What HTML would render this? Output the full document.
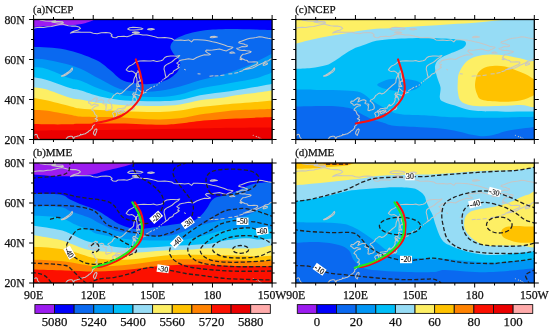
<!DOCTYPE html><html><head><meta charset="utf-8"><style>html,body{margin:0;padding:0;background:#fff;overflow:hidden}svg{display:block}.t{font-family:"Liberation Serif",serif;font-size:11.8px;fill:#111;stroke:#111;stroke-width:0.25px}.tt{font-family:"Liberation Serif",serif;font-size:11px;fill:#111;stroke:#111;stroke-width:0.25px}.cb{font-family:"Liberation Serif",serif;font-size:12.8px;fill:#111;stroke:#111;stroke-width:0.25px}.s{font-family:"Liberation Serif",serif;font-size:7.8px;fill:#111;stroke:#111;stroke-width:0.15px}</style></head><body>
<svg width="550" height="329" viewBox="0 0 550 329">
<rect width="550" height="329" fill="#fff"/>
<defs><clipPath id="clipa"><rect x="33.6" y="19.5" width="238.5" height="120.0"/></clipPath><clipPath id="clipb"><rect x="33.6" y="163.0" width="238.5" height="120.0"/></clipPath><clipPath id="clipc"><rect x="295.8" y="19.5" width="238.5" height="120.0"/></clipPath><clipPath id="clipd"><rect x="295.8" y="163.0" width="238.5" height="120.0"/></clipPath></defs>
<g clip-path="url(#clipa)"><rect x="33.6" y="19.5" width="238.5" height="120.0" fill="#0000fc"/>
<path d="M31.6,27.0 C35.5,26.8 47.3,26.2 55.0,25.8 C62.7,25.4 72.5,25.2 78.0,24.6 C83.5,24.0 84.8,23.3 88.0,22.3 C91.2,21.3 95.5,19.1 97.0,18.5 L97.0,15.0 L31.6,15.0 Z" fill="#9c1cf0"/>
<path d="M31.6,46.7 C37.2,47.2 54.4,47.4 65.0,49.5 C75.6,51.6 87.5,56.1 95.0,59.5 C102.5,62.9 105.7,66.7 110.0,70.0 C114.3,73.3 117.3,77.4 121.0,79.5 C124.7,81.6 127.8,82.0 132.0,82.8 C136.2,83.6 141.7,84.2 146.0,84.2 C150.3,84.2 154.8,83.6 158.0,83.0 C161.2,82.4 162.8,81.4 165.0,80.5 C167.2,79.6 168.8,79.1 171.0,77.5 C173.2,75.9 176.5,73.6 178.0,71.0 C179.5,68.4 180.8,65.0 180.0,62.0 C179.2,59.0 174.6,55.7 173.0,53.0 C171.4,50.3 170.0,48.4 170.5,46.0 C171.0,43.6 172.9,40.9 176.0,38.8 C179.1,36.7 184.2,34.9 189.0,33.5 C193.8,32.1 198.2,31.1 205.0,30.3 C211.8,29.6 218.5,29.1 230.0,29.0 C241.5,28.9 266.8,29.8 274.1,30.0 L274.1,300.0 L31.6,300.0 Z" fill="#0a69f0"/>
<path d="M31.6,58.8 C33.8,58.9 39.9,58.8 45.0,59.5 C50.1,60.2 56.2,61.5 62.0,63.0 C67.8,64.5 73.7,65.7 80.0,68.4 C86.3,71.1 93.3,75.6 100.0,79.0 C106.7,82.4 113.3,86.9 120.0,89.0 C126.7,91.1 133.3,91.2 140.0,91.5 C146.7,91.8 153.3,91.6 160.0,90.8 C166.7,90.0 173.3,88.3 180.0,86.5 C186.7,84.7 193.3,82.0 200.0,80.2 C206.7,78.4 214.0,77.2 220.0,75.5 C226.0,73.8 230.2,72.4 236.0,70.2 C241.8,68.0 248.7,65.5 255.0,62.5 C261.4,59.5 270.9,54.2 274.1,52.5 L274.1,300.0 L31.6,300.0 Z" fill="#0096f5"/>
<path d="M31.6,67.4 C33.8,67.6 38.6,66.7 45.0,68.5 C51.4,70.3 64.2,76.3 70.0,78.3 C75.8,80.3 75.0,78.7 80.0,80.5 C85.0,82.3 93.3,86.6 100.0,89.0 C106.7,91.4 113.3,93.8 120.0,95.1 C126.7,96.3 133.3,96.2 140.0,96.5 C146.7,96.8 153.3,97.3 160.0,97.0 C166.7,96.7 173.3,95.9 180.0,94.5 C186.7,93.1 193.3,90.1 200.0,88.5 C206.7,86.9 214.0,86.1 220.0,85.0 C226.0,83.9 230.2,83.0 236.0,81.9 C241.8,80.8 248.7,80.2 255.0,78.5 C261.4,76.8 270.9,72.9 274.1,71.8 L274.1,300.0 L31.6,300.0 Z" fill="#00bef8"/>
<path d="M31.6,77.0 C33.8,77.4 38.6,77.7 45.0,79.5 C51.4,81.3 64.2,86.3 70.0,88.1 C75.8,89.9 75.0,88.9 80.0,90.3 C85.0,91.7 93.3,94.9 100.0,96.5 C106.7,98.1 113.3,99.2 120.0,100.0 C126.7,100.8 133.3,100.8 140.0,101.0 C146.7,101.2 153.3,101.4 160.0,101.2 C166.7,101.0 173.3,101.0 180.0,100.0 C186.7,99.0 193.3,96.5 200.0,95.2 C206.7,94.0 214.0,93.3 220.0,92.5 C226.0,91.7 230.2,91.1 236.0,90.2 C241.8,89.3 248.7,88.1 255.0,87.0 C261.4,85.9 270.9,84.1 274.1,83.5 L274.1,300.0 L31.6,300.0 Z" fill="#96dcf5"/>
<path d="M31.6,87.0 C33.8,87.3 38.6,87.2 45.0,89.0 C51.4,90.8 64.2,96.0 70.0,97.7 C75.8,99.5 75.0,98.6 80.0,99.5 C85.0,100.4 93.3,102.1 100.0,103.0 C106.7,103.9 113.3,104.4 120.0,104.9 C126.7,105.4 133.3,105.6 140.0,105.8 C146.7,106.0 153.3,106.2 160.0,106.0 C166.7,105.8 173.3,105.5 180.0,104.5 C186.7,103.5 193.3,101.4 200.0,100.3 C206.7,99.2 214.0,98.8 220.0,98.0 C226.0,97.2 230.2,96.0 236.0,95.2 C241.8,94.4 248.7,93.8 255.0,93.0 C261.4,92.2 270.9,90.7 274.1,90.2 L274.1,300.0 L31.6,300.0 Z" fill="#fdef64"/>
<path d="M31.6,97.8 C33.8,98.2 38.6,98.6 45.0,100.0 C51.4,101.4 64.2,104.8 70.0,106.2 C75.8,107.6 75.0,107.9 80.0,108.5 C85.0,109.1 93.3,109.6 100.0,110.0 C106.7,110.4 113.3,110.7 120.0,111.0 C126.7,111.3 133.3,111.6 140.0,111.8 C146.7,112.0 153.3,112.2 160.0,112.0 C166.7,111.8 173.3,111.3 180.0,110.5 C186.7,109.7 193.3,107.9 200.0,107.0 C206.7,106.1 214.0,105.6 220.0,105.0 C226.0,104.4 230.2,104.1 236.0,103.6 C241.8,103.1 248.7,102.5 255.0,102.0 C261.4,101.5 270.9,100.6 274.1,100.3 L274.1,300.0 L31.6,300.0 Z" fill="#ffc200"/>
<path d="M31.6,109.9 C33.8,110.0 38.6,109.7 45.0,110.5 C51.4,111.3 64.2,113.7 70.0,114.7 C75.8,115.7 75.0,116.1 80.0,116.5 C85.0,116.9 93.3,116.9 100.0,117.0 C106.7,117.1 113.3,117.0 120.0,117.3 C126.7,117.6 133.3,118.3 140.0,118.7 C146.7,119.1 153.3,119.6 160.0,119.5 C166.7,119.4 173.3,119.1 180.0,118.3 C186.7,117.5 193.3,115.5 200.0,114.5 C206.7,113.5 214.0,112.7 220.0,112.0 C226.0,111.3 230.2,110.7 236.0,110.3 C241.8,109.9 248.7,109.8 255.0,109.5 C261.4,109.2 270.9,108.8 274.1,108.6 L274.1,300.0 L31.6,300.0 Z" fill="#ff8200"/>
<path d="M31.6,123.6 C33.8,123.7 38.6,124.2 45.0,124.3 C51.4,124.4 64.2,124.4 70.0,124.3 C75.8,124.2 71.7,123.8 80.0,123.7 C88.3,123.6 106.7,123.3 120.0,123.5 C133.3,123.7 150.0,124.8 160.0,124.8 C170.0,124.8 173.3,124.1 180.0,123.5 C186.7,122.9 190.7,121.8 200.0,121.0 C209.3,120.2 223.7,119.3 236.0,118.6 C248.3,117.9 267.8,117.3 274.1,117.0 L274.1,300.0 L31.6,300.0 Z" fill="#fc1000"/>
<path d="M31.6,130.5 C43.0,130.4 80.3,130.2 100.0,130.0 C119.7,129.8 131.7,129.6 150.0,129.3 C168.3,129.0 189.3,128.5 210.0,128.2 C230.7,127.9 263.4,127.5 274.1,127.4 L274.1,300.0 L31.6,300.0 Z" fill="#eb0000"/>
<path d="M32.6,28.5 L35.6,27.7 L39.6,27.3 L43.5,27.5 L47.5,26.7 L51.5,26.5 L54.5,25.7 L57.5,24.9 L61.8,24.1 L65.4,24.9 L68.4,25.7 L71.4,26.1 L75.3,26.1 L78.9,26.9 L80.5,28.3 L78.3,29.9 L74.3,31.1 L71.4,32.3 L70.4,33.1 L74.3,32.3 L78.3,31.9 L81.3,32.3 L85.3,32.3 L90.2,32.3 L93.2,33.3 L97.2,33.7 L101.2,32.7 L106.1,32.5 L110.1,33.1 L112.1,34.9 L111.1,35.9 L113.1,37.5 L116.1,37.7 L118.1,36.5 L120.1,36.5 L124.0,36.3 L127.0,36.7 L131.0,35.5 L132.6,34.5 L135.0,34.1 L137.9,34.1 L142.9,35.1 L146.9,34.9 L152.8,36.3 L155.8,36.9 L157.8,37.7 L160.8,37.7 L164.8,37.5 L168.8,37.9 L171.7,38.5 L173.7,39.9 L176.7,40.3 L180.7,40.1 L184.7,40.5 L188.6,39.9 L191.6,41.9 L193.6,39.7 L197.6,39.7 L202.5,39.9 L205.5,40.3 L209.5,40.9 L212.5,41.7 L216.4,42.5 L220.4,43.7 L224.4,45.1 L227.4,46.3 L230.4,46.7 L232.9,47.3 L231.4,48.5 L228.4,49.7 L226.4,50.9 L223.4,50.3 L219.4,49.1 L216.4,49.5 L212.5,50.1 L209.5,50.3 L206.5,50.1 L205.5,51.1 L207.5,52.9 L210.5,54.5 L208.5,54.9 L204.5,54.7 L200.5,55.9 L196.6,57.5 L193.2,59.5 L188.6,58.7 L184.7,59.5 L181.7,59.9 L179.3,60.7 L178.7,61.9 L176.7,63.1 L177.7,63.9 L179.3,64.5 L177.7,66.5 L179.3,67.3 L176.3,69.5 L173.7,70.9 L172.7,72.9 L170.1,73.9 L168.8,75.1 L167.8,76.3 L166.2,77.5 L165.8,76.5 L165.2,74.5 L164.8,71.9 L164.0,69.1 L164.4,66.5 L166.2,64.9 L167.8,63.9 L169.7,63.1 L172.3,61.5 L174.7,59.3 L178.3,57.1 L179.7,55.5 L176.7,56.3 L173.7,56.1 L170.7,55.9 L166.8,56.5 L164.8,57.5 L162.8,59.9 L160.8,60.7 L156.8,61.5 L154.8,61.1 L153.8,60.5 L150.9,60.9 L147.9,60.9 L143.9,60.7 L139.9,60.9 L136.9,61.5 L135.0,62.5 L133.6,63.9 L131.4,65.1 L129.0,66.3 L127.6,67.9 L126.2,69.9 L127.6,70.9 L129.4,71.5 L132.0,71.1 L134.0,72.3 L135.8,73.9 L135.4,75.9 L134.6,77.5 L134.0,79.1 L133.8,80.5 L133.6,82.5 L132.2,83.9 L130.0,85.5 L128.0,87.3 L126.0,89.1 L124.0,91.1 L122.0,92.9 L119.5,93.9 L117.7,93.1 L116.1,93.5 L115.3,94.3 L114.5,94.9 L113.5,95.5 L112.5,97.1 L112.3,97.9 L111.1,98.5 L110.1,99.5 L108.5,99.9 L107.9,101.1 L109.5,102.1 L110.3,103.1 L111.5,104.5 L111.9,106.3 L112.1,107.9 L111.7,108.9 L111.1,109.3 L109.9,109.7 L108.5,110.1 L106.9,110.7 L105.7,110.3 L105.9,109.1 L106.1,107.7 L106.3,106.5 L105.5,105.7 L106.7,104.9 L106.1,104.1 L104.6,103.9 L103.4,103.7 L102.6,103.1 L103.6,102.1 L103.8,100.7 L103.0,100.3 L101.8,99.7 L100.2,99.9 L98.2,100.7 L96.6,101.5 L95.6,101.9 L96.4,100.7 L96.2,99.7 L97.6,98.7 L97.0,97.9 L95.6,97.7 L94.2,98.7 L92.8,99.7 L91.8,100.7 L90.8,101.3 L89.4,101.1 L88.7,101.7 L88.5,102.7 L89.4,103.3 L90.8,104.1 L91.0,104.9 L92.4,105.3 L93.8,104.3 L94.8,103.9 L96.2,104.5 L98.0,104.7 L98.2,105.7 L96.2,105.9 L94.6,106.7 L93.6,107.7 L92.2,108.9 L91.8,110.1 L93.6,110.9 L94.4,112.7 L95.0,114.3 L96.0,115.1 L97.0,115.9 L96.8,116.9 L97.0,117.5 L96.2,118.1 L95.2,118.7 L96.4,119.3 L97.4,119.7 L97.0,121.1 L96.2,122.1 L95.8,123.1 L94.8,123.9 L94.2,124.9 L93.4,125.7 L92.4,126.5 L92.6,127.7 L91.8,128.7 L91.0,129.5 L90.4,130.3 L89.2,130.7 L88.5,131.5 L87.5,132.3 L86.5,132.9 L85.3,133.7 L83.9,134.1 L82.5,134.5 L81.7,134.9 L80.5,134.3 L80.3,135.1 L79.1,135.7 L77.7,136.1 L76.5,136.5 L75.1,136.7 L74.3,137.1 L73.9,138.3 L73.7,139.1 L73.2,138.5 L72.8,137.1 L72.4,136.5 L71.4,136.3 L70.4,136.3 L69.4,136.5 L68.4,136.7 L67.4,137.3 L66.8,138.1 L66.2,138.9 L65.6,139.7 L65.0,140.5 M32.6,135.5 L34.6,134.9 L36.0,134.3 L37.2,134.9 L37.4,136.5 L38.0,137.5 L38.6,138.3 L39.6,139.3 L40.6,140.1 M95.2,129.3 L96.4,128.9 L97.0,129.5 L96.8,130.7 L96.2,132.5 L95.6,133.9 L95.0,135.5 L94.6,134.9 L93.8,134.3 L93.4,133.5 L93.6,132.1 L94.2,130.9 L94.8,129.9 L95.2,129.3 M112.7,112.9 L113.7,112.3 L114.9,111.7 L115.9,112.3 L116.5,113.1 L116.9,114.5 L115.9,116.5 L115.1,117.1 L114.3,117.5 L113.5,116.9 L113.7,115.7 L113.1,114.5 L112.5,113.9 L112.7,112.9 M117.9,112.7 L118.9,113.9 L120.3,112.7 L121.6,112.9 L122.4,111.9 L121.8,111.1 L120.3,110.9 L119.1,111.5 L118.3,111.7 L117.9,112.7 M114.9,111.5 L115.5,110.7 L116.7,110.1 L118.3,108.7 L120.1,108.5 L122.0,108.3 L123.4,108.1 L124.8,108.3 L125.2,107.1 L126.4,105.7 L126.6,104.9 L127.6,104.5 L127.2,105.7 L128.0,105.7 L129.8,104.9 L130.8,103.9 L131.8,102.9 L132.4,101.5 L133.0,100.1 L132.8,98.5 L133.6,97.1 L134.6,97.3 L135.6,96.7 L136.0,98.5 L136.8,99.9 L136.9,100.9 L136.2,102.5 L135.0,103.1 L135.0,104.3 L134.8,105.9 L134.2,107.1 L134.6,108.1 L133.4,109.3 L132.6,109.7 L132.8,108.7 L132.2,108.9 L131.4,109.1 L130.8,110.3 L129.6,110.3 L127.6,110.1 L126.8,110.9 L126.0,111.5 L125.2,112.3 L124.4,112.5 L123.4,111.9 L123.4,110.9 L123.8,110.1 L122.4,109.9 L121.1,110.3 L119.7,110.7 L118.1,110.9 L117.1,111.7 L115.9,111.5 L114.9,111.5 M133.0,96.5 L133.6,95.1 L132.6,94.5 L133.6,92.9 L135.6,93.1 L136.4,90.9 L136.2,89.5 L136.8,88.5 L137.9,89.1 L139.9,90.9 L141.5,91.5 L142.5,91.7 L143.5,90.9 L143.1,92.3 L144.1,92.9 L142.9,93.5 L141.5,93.7 L139.7,95.1 L139.3,95.7 L137.9,94.9 L136.0,94.3 L134.8,94.5 L134.0,95.5 L135.2,95.9 L134.4,96.3 L133.0,96.5 M136.9,87.5 L137.5,86.3 L139.7,86.5 L138.7,85.1 L138.1,83.9 L138.3,81.7 L139.5,80.9 L141.7,81.5 L140.5,80.1 L139.3,77.5 L139.1,74.9 L139.3,72.9 L138.5,71.1 L137.7,70.9 L138.1,72.3 L137.3,72.7 L136.4,72.9 L136.6,74.7 L136.2,76.5 L136.9,78.5 L137.1,81.5 L136.9,83.5 L136.8,85.5 L136.9,87.5 M209.9,37.5 L212.5,37.7 L215.5,37.3 L217.4,36.9 L214.5,36.3 L211.5,36.5 L209.9,37.5 M274.1,39.3 L271.1,38.7 L268.1,38.3 L265.1,37.7 L262.2,37.1 L259.2,36.7 L256.2,37.5 L253.2,37.9 L250.2,38.3 L247.3,38.9 L245.3,39.7 L243.3,40.5 L241.3,41.3 L239.3,41.7 L238.7,42.7 L241.3,43.5 L243.9,44.1 L245.3,44.7 L247.3,45.3 L247.3,46.3 L245.3,46.7 L242.3,46.5 L240.9,47.1 L238.7,47.9 L236.7,48.3 L237.3,49.1 L239.3,50.1 L242.3,50.5 L244.3,50.3 L246.3,50.7 L249.2,50.9 L251.2,51.7 L250.2,52.5 L248.2,53.1 L245.3,53.9 L242.7,54.3 L241.3,55.9 L240.3,57.5 L242.3,58.7 L244.9,59.9 L247.3,60.5 L248.2,61.9 L251.2,62.1 L254.2,61.7 L257.2,62.1 L257.8,63.1 L256.2,64.5 L253.2,65.7 L251.0,66.7 L248.6,67.7 L246.3,68.5 L244.7,69.3 L243.3,69.7 L245.3,69.5 L247.9,69.1 L250.2,68.5 L252.6,67.9 L255.2,66.7 L257.8,65.3 L260.2,64.3 L262.6,63.1 L264.2,62.3 L265.7,61.3 L267.3,61.1 L268.7,60.7 L269.7,59.7 L271.1,58.9 L273.1,58.3 M263.2,65.5 L265.1,65.1 L267.1,64.3 L267.5,63.3 L266.1,62.7 L264.2,63.5 L263.2,64.3 L263.2,65.5 M184.1,69.1 L185.8,70.1 M229.4,52.9 L231.4,53.3 L233.3,52.9 L234.9,53.1 L233.3,52.1 L231.4,51.9 L229.4,52.9 M239.9,59.5 L241.9,59.7 L241.3,58.7 L239.9,58.9 L239.9,59.5 M61.0,76.3 L62.4,76.3 L64.4,75.7 L66.4,74.7 L68.4,73.3 L70.4,72.1 L72.0,70.5 L72.6,68.9 L72.2,67.9 L71.4,68.9 L70.2,70.5 L67.8,72.3 L66.0,73.5 L64.0,74.7 L62.0,75.7 L61.0,76.3 M144.7,92.7 L146.5,91.9 M146.1,90.7 L148.9,89.1 M149.3,88.9 L151.9,87.1 M153.4,87.1 L154.8,85.9 M156.6,85.5 L157.4,84.5 M158.8,83.3 L159.6,82.3 M160.8,81.7 L161.8,80.9 M162.4,80.3 L163.4,79.3 M163.8,79.1 L165.8,77.7 M127.4,29.1 L130.0,29.9 L134.0,30.1 L137.9,29.7 L140.9,29.5 L142.9,28.7 L140.9,27.9 L136.9,27.5 L133.0,27.3 L129.6,27.7 L127.4,29.1 M147.3,29.5 L150.9,29.9 L154.4,29.3 L151.9,28.5 L148.9,28.7 L147.3,29.5 M132.0,32.5 L135.0,32.9 L139.5,32.7 L137.9,31.9 L135.0,31.7 L132.0,32.5 M39.6,20.1 L45.5,21.1 L51.5,21.3 L55.5,20.5 L54.5,19.1 L47.5,18.3 L41.6,19.1 L39.6,20.1 M51.5,21.9 L57.5,23.1 L63.4,22.9 L62.4,21.7 L55.5,21.3 L51.5,21.9 M239.3,71.7 L243.3,70.5 M234.3,73.3 L238.3,72.5 M228.4,74.1 L232.3,73.7 M220.4,75.5 L224.4,75.1 M214.5,75.9 L218.4,75.7 M209.5,76.3 L213.5,75.7 M197.6,73.7 L200.5,73.9 M252.8,135.1 L253.6,135.5 M255.8,136.3 L256.8,136.9 M257.8,137.2 L258.8,137.3 M259.4,137.7 L260.2,138.1 M260.6,138.9 L261.4,139.5" fill="none" stroke="#c6c6c6" stroke-width="1.05" stroke-linejoin="round"/>
<path d="M135.8,59.4 C136.6,61.8 139.2,69.2 140.3,73.5 C141.4,77.8 142.2,82.4 142.5,85.5 C142.8,88.6 142.7,89.8 142.2,92.0 C141.7,94.2 141.2,96.3 139.5,99.0 C137.8,101.7 134.9,105.3 132.0,108.1 C129.1,110.8 125.7,113.5 122.0,115.5 C118.3,117.5 113.5,118.8 109.6,120.0 C105.7,121.2 101.4,121.9 98.7,122.5 C96.0,123.1 94.4,123.2 93.5,123.4" fill="none" stroke="#fa0f0f" stroke-width="2" stroke-linecap="round"/></g>
<g clip-path="url(#clipb)"><rect x="33.6" y="163.0" width="238.5" height="120.0" fill="#0000fc"/>
<path d="M31.6,174.3 C37.3,174.6 56.0,176.3 66.0,176.3 C76.0,176.3 85.3,175.3 91.5,174.5 C97.7,173.7 99.4,172.4 103.0,171.5 C106.6,170.6 109.3,169.9 113.0,169.0 C116.7,168.1 120.3,167.5 125.0,166.2 C129.7,164.9 138.3,161.9 141.0,161.0 L141.0,150.0 L31.6,150.0 Z" fill="#9c1cf0"/>
<path d="M31.6,193.7 C36.3,193.8 53.6,193.5 60.0,194.5 C66.4,195.5 66.7,197.9 70.0,199.5 C73.3,201.1 76.7,202.7 80.0,204.0 C83.3,205.3 86.7,206.2 90.0,207.5 C93.3,208.8 96.7,210.2 100.0,212.0 C103.3,213.8 106.7,216.4 110.0,218.5 C113.3,220.6 116.7,222.9 120.0,224.5 C123.3,226.1 127.0,227.2 130.0,228.0 C133.0,228.8 134.7,229.0 138.0,229.0 C141.3,229.0 146.3,228.4 150.0,228.0 C153.7,227.6 155.8,227.2 160.0,226.6 C164.2,226.0 170.2,225.1 175.2,224.3 C180.2,223.5 185.9,223.3 190.0,222.0 C194.1,220.7 197.2,218.7 200.0,216.4 C202.8,214.1 205.1,210.7 206.9,208.2 C208.7,205.7 209.4,203.2 211.0,201.4 C212.6,199.6 213.9,198.3 216.4,197.3 C218.9,196.3 222.9,196.1 226.0,195.2 C229.1,194.3 230.6,193.6 235.0,191.8 C239.4,190.0 246.0,185.9 252.5,184.2 C259.0,182.5 270.5,182.0 274.1,181.6 L274.1,300.0 L31.6,300.0 Z" fill="#0a69f0"/>
<path d="M31.6,206.3 C36.3,206.4 53.6,206.2 60.0,207.0 C66.4,207.8 66.7,209.8 70.0,211.0 C73.3,212.2 76.7,213.3 80.0,214.5 C83.3,215.7 86.7,216.5 90.0,218.0 C93.3,219.5 96.7,221.8 100.0,223.5 C103.3,225.2 106.5,227.1 110.0,228.5 C113.5,229.9 117.0,231.2 120.8,232.1 C124.6,232.9 129.0,233.1 133.0,233.6 C137.0,234.1 140.5,234.9 145.0,235.3 C149.5,235.8 155.0,236.4 160.0,236.3 C165.0,236.2 170.8,235.4 175.0,234.5 C179.2,233.6 181.7,232.2 185.0,231.0 C188.3,229.8 190.8,228.4 195.0,227.0 C199.2,225.6 205.0,224.1 210.0,222.8 C215.0,221.6 219.2,220.6 225.0,219.5 C230.8,218.4 238.6,218.1 245.0,216.0 C251.4,213.9 258.8,209.4 263.6,206.9 C268.5,204.4 272.4,202.1 274.1,201.2 L274.1,300.0 L31.6,300.0 Z" fill="#0096f5"/>
<path d="M31.6,215.4 C36.3,215.8 52.7,216.2 60.0,217.7 C67.3,219.2 70.1,222.3 75.2,224.5 C80.3,226.7 86.6,229.0 90.4,230.6 C94.2,232.2 91.4,232.5 98.0,234.0 C104.6,235.5 119.7,238.4 130.0,239.5 C140.3,240.6 151.7,240.4 160.0,240.5 C168.3,240.6 174.2,240.6 180.0,240.1 C185.8,239.6 190.0,238.5 195.0,237.4 C200.0,236.3 205.0,234.9 210.0,233.7 C215.0,232.5 219.2,230.9 225.0,230.0 C230.8,229.1 239.2,228.2 245.0,228.0 C250.8,227.8 255.2,228.8 260.0,229.0 C264.9,229.2 271.8,229.0 274.1,229.0 L274.1,300.0 L31.6,300.0 Z" fill="#00bef8"/>
<path d="M31.6,225.3 C36.3,226.1 53.1,228.4 60.0,230.0 C66.9,231.6 68.8,233.2 73.0,235.0 C77.2,236.8 81.0,239.1 85.0,240.5 C89.0,241.9 92.8,242.6 97.0,243.5 C101.2,244.4 104.5,245.2 110.0,246.0 C115.5,246.8 120.8,247.9 130.0,248.0 C139.2,248.1 156.7,246.9 165.0,246.5 C173.3,246.1 175.0,245.9 180.0,245.6 C185.0,245.3 190.0,245.0 195.0,244.7 C200.0,244.4 205.0,244.5 210.0,243.8 C215.0,243.1 219.2,241.4 225.0,240.5 C230.8,239.6 239.2,238.4 245.0,238.2 C250.8,238.0 255.2,239.4 260.0,239.5 C264.9,239.6 271.8,238.7 274.1,238.5 L274.1,300.0 L31.6,300.0 Z" fill="#96dcf5"/>
<path d="M31.6,234.8 C36.3,235.7 53.1,238.4 60.0,240.0 C66.9,241.6 68.8,243.0 73.0,244.5 C77.2,246.0 81.0,247.9 85.0,249.0 C89.0,250.1 92.8,250.5 97.0,251.0 C101.2,251.5 104.5,251.7 110.0,252.0 C115.5,252.3 120.8,253.2 130.0,253.0 C139.2,252.8 154.2,251.1 165.0,250.5 C175.8,249.9 187.5,249.6 195.0,249.2 C202.5,248.8 201.7,248.4 210.0,248.3 C218.3,248.2 236.7,248.6 245.0,248.5 C253.3,248.4 255.2,248.5 260.0,247.8 C264.9,247.1 271.8,245.1 274.1,244.5 L274.1,300.0 L31.6,300.0 Z" fill="#fdef64"/>
<path d="M31.6,246.7 C37.2,247.2 54.1,247.6 65.0,249.6 C75.9,251.6 86.2,256.9 97.0,258.5 C107.8,260.1 118.7,260.0 130.0,259.5 C141.3,259.0 154.2,256.3 165.0,255.5 C175.8,254.7 182.5,254.7 195.0,254.7 C207.5,254.7 229.2,255.2 240.0,255.5 C250.8,255.8 254.3,256.4 260.0,256.4 C265.7,256.4 271.8,255.7 274.1,255.5 L274.1,300.0 L31.6,300.0 Z" fill="#ffc200"/>
<path d="M31.6,259.5 C37.2,259.8 54.1,260.4 65.0,261.5 C75.9,262.6 86.2,265.9 97.0,266.4 C107.8,266.9 118.7,265.6 130.0,264.5 C141.3,263.4 154.2,260.9 165.0,260.0 C175.8,259.1 182.5,259.2 195.0,259.3 C207.5,259.4 229.2,260.2 240.0,260.5 C250.8,260.8 254.3,261.1 260.0,261.2 C265.7,261.2 271.8,260.9 274.1,260.8 L274.1,300.0 L31.6,300.0 Z" fill="#ff8200"/>
<path d="M31.6,269.4 C37.2,269.6 54.1,270.1 65.0,270.4 C75.9,270.7 86.2,271.6 97.0,271.4 C107.8,271.2 118.7,270.4 130.0,269.4 C141.3,268.4 154.2,266.3 165.0,265.5 C175.8,264.7 182.5,264.6 195.0,264.7 C207.5,264.8 226.8,265.8 240.0,266.0 C253.2,266.2 268.4,266.2 274.1,266.2 L274.1,300.0 L31.6,300.0 Z" fill="#fc1000"/>
<path d="M32.6,172.0 L35.6,171.2 L39.6,170.8 L43.5,171.0 L47.5,170.2 L51.5,170.0 L54.5,169.2 L57.5,168.4 L61.8,167.6 L65.4,168.4 L68.4,169.2 L71.4,169.6 L75.3,169.6 L78.9,170.4 L80.5,171.8 L78.3,173.4 L74.3,174.6 L71.4,175.8 L70.4,176.6 L74.3,175.8 L78.3,175.4 L81.3,175.8 L85.3,175.8 L90.2,175.8 L93.2,176.8 L97.2,177.2 L101.2,176.2 L106.1,176.0 L110.1,176.6 L112.1,178.4 L111.1,179.4 L113.1,181.0 L116.1,181.2 L118.1,180.0 L120.1,180.0 L124.0,179.8 L127.0,180.2 L131.0,179.0 L132.6,178.0 L135.0,177.6 L137.9,177.6 L142.9,178.6 L146.9,178.4 L152.8,179.8 L155.8,180.4 L157.8,181.2 L160.8,181.2 L164.8,181.0 L168.8,181.4 L171.7,182.0 L173.7,183.4 L176.7,183.8 L180.7,183.6 L184.7,184.0 L188.6,183.4 L191.6,185.4 L193.6,183.2 L197.6,183.2 L202.5,183.4 L205.5,183.8 L209.5,184.4 L212.5,185.2 L216.4,186.0 L220.4,187.2 L224.4,188.6 L227.4,189.8 L230.4,190.2 L232.9,190.8 L231.4,192.0 L228.4,193.2 L226.4,194.4 L223.4,193.8 L219.4,192.6 L216.4,193.0 L212.5,193.6 L209.5,193.8 L206.5,193.6 L205.5,194.6 L207.5,196.4 L210.5,198.0 L208.5,198.4 L204.5,198.2 L200.5,199.4 L196.6,201.0 L193.2,203.0 L188.6,202.2 L184.7,203.0 L181.7,203.4 L179.3,204.2 L178.7,205.4 L176.7,206.6 L177.7,207.4 L179.3,208.0 L177.7,210.0 L179.3,210.8 L176.3,213.0 L173.7,214.4 L172.7,216.4 L170.1,217.4 L168.8,218.6 L167.8,219.8 L166.2,221.0 L165.8,220.0 L165.2,218.0 L164.8,215.4 L164.0,212.6 L164.4,210.0 L166.2,208.4 L167.8,207.4 L169.7,206.6 L172.3,205.0 L174.7,202.8 L178.3,200.6 L179.7,199.0 L176.7,199.8 L173.7,199.6 L170.7,199.4 L166.8,200.0 L164.8,201.0 L162.8,203.4 L160.8,204.2 L156.8,205.0 L154.8,204.6 L153.8,204.0 L150.9,204.4 L147.9,204.4 L143.9,204.2 L139.9,204.4 L136.9,205.0 L135.0,206.0 L133.6,207.4 L131.4,208.6 L129.0,209.8 L127.6,211.4 L126.2,213.4 L127.6,214.4 L129.4,215.0 L132.0,214.6 L134.0,215.8 L135.8,217.4 L135.4,219.4 L134.6,221.0 L134.0,222.6 L133.8,224.0 L133.6,226.0 L132.2,227.4 L130.0,229.0 L128.0,230.8 L126.0,232.6 L124.0,234.6 L122.0,236.4 L119.5,237.4 L117.7,236.6 L116.1,237.0 L115.3,237.8 L114.5,238.4 L113.5,239.0 L112.5,240.6 L112.3,241.4 L111.1,242.0 L110.1,243.0 L108.5,243.4 L107.9,244.6 L109.5,245.6 L110.3,246.6 L111.5,248.0 L111.9,249.8 L112.1,251.4 L111.7,252.4 L111.1,252.8 L109.9,253.2 L108.5,253.6 L106.9,254.2 L105.7,253.8 L105.9,252.6 L106.1,251.2 L106.3,250.0 L105.5,249.2 L106.7,248.4 L106.1,247.6 L104.6,247.4 L103.4,247.2 L102.6,246.6 L103.6,245.6 L103.8,244.2 L103.0,243.8 L101.8,243.2 L100.2,243.4 L98.2,244.2 L96.6,245.0 L95.6,245.4 L96.4,244.2 L96.2,243.2 L97.6,242.2 L97.0,241.4 L95.6,241.2 L94.2,242.2 L92.8,243.2 L91.8,244.2 L90.8,244.8 L89.4,244.6 L88.7,245.2 L88.5,246.2 L89.4,246.8 L90.8,247.6 L91.0,248.4 L92.4,248.8 L93.8,247.8 L94.8,247.4 L96.2,248.0 L98.0,248.2 L98.2,249.2 L96.2,249.4 L94.6,250.2 L93.6,251.2 L92.2,252.4 L91.8,253.6 L93.6,254.4 L94.4,256.2 L95.0,257.8 L96.0,258.6 L97.0,259.4 L96.8,260.4 L97.0,261.0 L96.2,261.6 L95.2,262.2 L96.4,262.8 L97.4,263.2 L97.0,264.6 L96.2,265.6 L95.8,266.6 L94.8,267.4 L94.2,268.4 L93.4,269.2 L92.4,270.0 L92.6,271.2 L91.8,272.2 L91.0,273.0 L90.4,273.8 L89.2,274.2 L88.5,275.0 L87.5,275.8 L86.5,276.4 L85.3,277.2 L83.9,277.6 L82.5,278.0 L81.7,278.4 L80.5,277.8 L80.3,278.6 L79.1,279.2 L77.7,279.6 L76.5,280.0 L75.1,280.2 L74.3,280.6 L73.9,281.8 L73.7,282.6 L73.2,282.0 L72.8,280.6 L72.4,280.0 L71.4,279.8 L70.4,279.8 L69.4,280.0 L68.4,280.2 L67.4,280.8 L66.8,281.6 L66.2,282.4 L65.6,283.2 L65.0,284.0 M32.6,279.0 L34.6,278.4 L36.0,277.8 L37.2,278.4 L37.4,280.0 L38.0,281.0 L38.6,281.8 L39.6,282.8 L40.6,283.6 M95.2,272.8 L96.4,272.4 L97.0,273.0 L96.8,274.2 L96.2,276.0 L95.6,277.4 L95.0,279.0 L94.6,278.4 L93.8,277.8 L93.4,277.0 L93.6,275.6 L94.2,274.4 L94.8,273.4 L95.2,272.8 M112.7,256.4 L113.7,255.8 L114.9,255.2 L115.9,255.8 L116.5,256.6 L116.9,258.0 L115.9,260.0 L115.1,260.6 L114.3,261.0 L113.5,260.4 L113.7,259.2 L113.1,258.0 L112.5,257.4 L112.7,256.4 M117.9,256.2 L118.9,257.4 L120.3,256.2 L121.6,256.4 L122.4,255.4 L121.8,254.6 L120.3,254.4 L119.1,255.0 L118.3,255.2 L117.9,256.2 M114.9,255.0 L115.5,254.2 L116.7,253.6 L118.3,252.2 L120.1,252.0 L122.0,251.8 L123.4,251.6 L124.8,251.8 L125.2,250.6 L126.4,249.2 L126.6,248.4 L127.6,248.0 L127.2,249.2 L128.0,249.2 L129.8,248.4 L130.8,247.4 L131.8,246.4 L132.4,245.0 L133.0,243.6 L132.8,242.0 L133.6,240.6 L134.6,240.8 L135.6,240.2 L136.0,242.0 L136.8,243.4 L136.9,244.4 L136.2,246.0 L135.0,246.6 L135.0,247.8 L134.8,249.4 L134.2,250.6 L134.6,251.6 L133.4,252.8 L132.6,253.2 L132.8,252.2 L132.2,252.4 L131.4,252.6 L130.8,253.8 L129.6,253.8 L127.6,253.6 L126.8,254.4 L126.0,255.0 L125.2,255.8 L124.4,256.0 L123.4,255.4 L123.4,254.4 L123.8,253.6 L122.4,253.4 L121.1,253.8 L119.7,254.2 L118.1,254.4 L117.1,255.2 L115.9,255.0 L114.9,255.0 M133.0,240.0 L133.6,238.6 L132.6,238.0 L133.6,236.4 L135.6,236.6 L136.4,234.4 L136.2,233.0 L136.8,232.0 L137.9,232.6 L139.9,234.4 L141.5,235.0 L142.5,235.2 L143.5,234.4 L143.1,235.8 L144.1,236.4 L142.9,237.0 L141.5,237.2 L139.7,238.6 L139.3,239.2 L137.9,238.4 L136.0,237.8 L134.8,238.0 L134.0,239.0 L135.2,239.4 L134.4,239.8 L133.0,240.0 M136.9,231.0 L137.5,229.8 L139.7,230.0 L138.7,228.6 L138.1,227.4 L138.3,225.2 L139.5,224.4 L141.7,225.0 L140.5,223.6 L139.3,221.0 L139.1,218.4 L139.3,216.4 L138.5,214.6 L137.7,214.4 L138.1,215.8 L137.3,216.2 L136.4,216.4 L136.6,218.2 L136.2,220.0 L136.9,222.0 L137.1,225.0 L136.9,227.0 L136.8,229.0 L136.9,231.0 M209.9,181.0 L212.5,181.2 L215.5,180.8 L217.4,180.4 L214.5,179.8 L211.5,180.0 L209.9,181.0 M274.1,182.8 L271.1,182.2 L268.1,181.8 L265.1,181.2 L262.2,180.6 L259.2,180.2 L256.2,181.0 L253.2,181.4 L250.2,181.8 L247.3,182.4 L245.3,183.2 L243.3,184.0 L241.3,184.8 L239.3,185.2 L238.7,186.2 L241.3,187.0 L243.9,187.6 L245.3,188.2 L247.3,188.8 L247.3,189.8 L245.3,190.2 L242.3,190.0 L240.9,190.6 L238.7,191.4 L236.7,191.8 L237.3,192.6 L239.3,193.6 L242.3,194.0 L244.3,193.8 L246.3,194.2 L249.2,194.4 L251.2,195.2 L250.2,196.0 L248.2,196.6 L245.3,197.4 L242.7,197.8 L241.3,199.4 L240.3,201.0 L242.3,202.2 L244.9,203.4 L247.3,204.0 L248.2,205.4 L251.2,205.6 L254.2,205.2 L257.2,205.6 L257.8,206.6 L256.2,208.0 L253.2,209.2 L251.0,210.2 L248.6,211.2 L246.3,212.0 L244.7,212.8 L243.3,213.2 L245.3,213.0 L247.9,212.6 L250.2,212.0 L252.6,211.4 L255.2,210.2 L257.8,208.8 L260.2,207.8 L262.6,206.6 L264.2,205.8 L265.7,204.8 L267.3,204.6 L268.7,204.2 L269.7,203.2 L271.1,202.4 L273.1,201.8 M263.2,209.0 L265.1,208.6 L267.1,207.8 L267.5,206.8 L266.1,206.2 L264.2,207.0 L263.2,207.8 L263.2,209.0 M184.1,212.6 L185.8,213.6 M229.4,196.4 L231.4,196.8 L233.3,196.4 L234.9,196.6 L233.3,195.6 L231.4,195.4 L229.4,196.4 M239.9,203.0 L241.9,203.2 L241.3,202.2 L239.9,202.4 L239.9,203.0 M61.0,219.8 L62.4,219.8 L64.4,219.2 L66.4,218.2 L68.4,216.8 L70.4,215.6 L72.0,214.0 L72.6,212.4 L72.2,211.4 L71.4,212.4 L70.2,214.0 L67.8,215.8 L66.0,217.0 L64.0,218.2 L62.0,219.2 L61.0,219.8 M144.7,236.2 L146.5,235.4 M146.1,234.2 L148.9,232.6 M149.3,232.4 L151.9,230.6 M153.4,230.6 L154.8,229.4 M156.6,229.0 L157.4,228.0 M158.8,226.8 L159.6,225.8 M160.8,225.2 L161.8,224.4 M162.4,223.8 L163.4,222.8 M163.8,222.6 L165.8,221.2 M127.4,172.6 L130.0,173.4 L134.0,173.6 L137.9,173.2 L140.9,173.0 L142.9,172.2 L140.9,171.4 L136.9,171.0 L133.0,170.8 L129.6,171.2 L127.4,172.6 M147.3,173.0 L150.9,173.4 L154.4,172.8 L151.9,172.0 L148.9,172.2 L147.3,173.0 M132.0,176.0 L135.0,176.4 L139.5,176.2 L137.9,175.4 L135.0,175.2 L132.0,176.0 M39.6,163.6 L45.5,164.6 L51.5,164.8 L55.5,164.0 L54.5,162.6 L47.5,161.8 L41.6,162.6 L39.6,163.6 M51.5,165.4 L57.5,166.6 L63.4,166.4 L62.4,165.2 L55.5,164.8 L51.5,165.4 M239.3,215.2 L243.3,214.0 M234.3,216.8 L238.3,216.0 M228.4,217.6 L232.3,217.2 M220.4,219.0 L224.4,218.6 M214.5,219.4 L218.4,219.2 M209.5,219.8 L213.5,219.2 M197.6,217.2 L200.5,217.4 M252.8,278.6 L253.6,279.0 M255.8,279.8 L256.8,280.4 M257.8,280.7 L258.8,280.8 M259.4,281.2 L260.2,281.6 M260.6,282.4 L261.4,283.0" fill="none" stroke="#c6c6c6" stroke-width="1.05" stroke-linejoin="round"/>
<path d="M31.6,178.2 C34.3,178.0 42.9,177.3 48.0,176.8 C53.1,176.3 58.7,175.8 62.0,175.0 C65.3,174.2 66.8,173.2 68.0,172.0 C69.2,170.8 69.2,169.5 69.5,168.0 C69.8,166.5 69.9,163.8 70.0,163.0" fill="none" stroke="#222" stroke-width="1.30" stroke-dasharray="4.2,2.2"/>
<path d="M31.6,193.5 C36.3,193.5 52.7,192.8 60.0,193.3 C67.3,193.8 70.1,195.5 75.2,196.4 C80.3,197.3 85.3,197.8 90.4,198.6 C95.5,199.3 101.8,199.9 105.6,200.9 C109.4,201.9 111.2,203.0 113.2,204.7 C115.2,206.3 116.3,208.8 117.8,210.8 C119.3,212.8 120.6,215.4 122.4,216.9 C124.2,218.4 126.4,219.3 128.4,219.9 C130.4,220.5 132.4,220.3 134.5,220.7 C136.6,221.1 138.9,222.0 141.0,222.5 C143.1,223.0 145.2,223.8 147.0,223.5 C148.8,223.2 150.8,221.4 151.5,221.0" fill="none" stroke="#222" stroke-width="1.30" stroke-dasharray="4.2,2.2"/>
<path d="M161.0,211.0 C161.4,209.8 163.3,206.4 163.5,204.0 C163.7,201.6 163.5,199.0 162.4,196.5 C161.3,194.0 159.4,191.6 157.0,189.2 C154.6,186.8 151.0,184.0 147.9,181.9 C144.8,179.8 141.1,178.7 138.7,176.4 C136.3,174.1 134.1,170.4 133.3,168.2 C132.5,166.0 133.9,163.9 134.0,163.0" fill="none" stroke="#222" stroke-width="1.30" stroke-dasharray="4.2,2.2"/>
<path d="M31.6,205.5 C36.3,205.5 52.7,205.4 60.0,205.5 C67.3,205.6 70.1,205.7 75.2,206.3 C80.3,206.9 86.6,208.0 90.4,209.3 C94.2,210.6 96.0,212.1 98.0,213.9 C100.0,215.7 101.1,218.1 102.6,219.9 C104.1,221.7 105.1,223.2 107.1,224.5 C109.1,225.8 111.2,226.4 114.8,227.5 C118.3,228.6 124.2,230.3 128.4,231.3 C132.6,232.3 136.4,232.8 140.0,233.6 C143.6,234.3 146.7,235.4 150.0,235.8 C153.3,236.2 157.0,236.2 160.0,235.8 C163.0,235.4 166.0,234.1 168.0,233.5 C170.0,232.9 170.0,233.2 172.0,232.3 C174.0,231.4 178.7,228.9 180.0,228.2" fill="none" stroke="#222" stroke-width="1.30" stroke-dasharray="4.2,2.2"/>
<path d="M192.0,216.0 C192.2,214.7 193.5,210.5 193.4,208.0 C193.3,205.5 192.7,203.3 191.5,201.0 C190.3,198.7 188.2,196.3 186.5,194.0 C184.8,191.7 182.8,189.4 181.0,187.0 C179.2,184.6 176.8,181.9 175.5,179.5 C174.2,177.1 172.9,174.9 173.0,172.8 C173.1,170.7 173.8,168.6 176.0,167.0 C178.2,165.4 184.3,163.7 186.0,163.0" fill="none" stroke="#222" stroke-width="1.30" stroke-dasharray="4.2,2.2"/>
<path d="M211.0,193.5 C208.8,191.8 207.6,187.8 206.8,185.0 C206.1,182.2 205.6,179.2 206.5,177.0 C207.4,174.8 208.9,172.8 212.0,171.5 C215.1,170.2 220.3,169.6 225.0,169.3 C229.7,169.0 235.5,169.1 240.0,169.5 C244.5,169.9 248.9,170.3 252.0,171.5 C255.1,172.7 257.6,174.7 258.5,176.5 C259.4,178.3 258.5,180.6 257.5,182.5 C256.5,184.4 254.8,186.4 252.5,188.0 C250.2,189.6 247.4,190.9 244.0,192.0 C240.6,193.1 236.0,194.0 232.0,194.5 C228.0,195.0 223.5,195.2 220.0,195.0 C216.5,194.8 213.2,195.2 211.0,193.5 Z" fill="none" stroke="#222" stroke-width="1.30" stroke-dasharray="4.2,2.2"/>
<path d="M66.6,245.7 C66.8,243.0 69.5,239.4 71.4,236.7 C73.4,234.0 75.1,230.8 78.3,229.5 C81.5,228.2 85.9,228.7 90.4,229.1 C95.0,229.5 101.5,230.9 105.6,232.1 C109.7,233.3 111.6,234.8 114.8,236.5 C118.0,238.2 121.6,240.8 124.6,242.5 C127.5,244.2 130.5,245.6 132.5,247.0 C134.5,248.4 136.8,249.8 136.5,251.0 C136.2,252.2 134.6,253.1 131.0,254.5 C127.4,255.9 120.2,257.9 115.0,259.5 C109.8,261.1 104.5,263.3 100.0,264.0 C95.5,264.7 91.7,264.2 88.0,263.5 C84.3,262.8 81.0,261.2 78.0,259.5 C75.0,257.8 71.9,255.3 70.0,253.0 C68.1,250.7 66.4,248.4 66.6,245.7 Z" fill="none" stroke="#222" stroke-width="1.30" stroke-dasharray="4.2,2.2"/>
<path d="M274.1,217.0 C271.4,216.1 262.6,212.8 257.7,211.4 C252.8,210.0 248.6,208.9 245.0,208.5 C241.4,208.1 239.3,208.7 236.0,209.1 C232.7,209.5 228.5,209.8 225.1,210.9 C221.7,212.0 219.6,213.5 215.4,215.8 C211.2,218.2 204.5,222.2 200.0,225.0 C195.5,227.8 191.5,230.7 188.6,232.8 C185.7,234.9 183.5,236.7 182.5,237.5" fill="none" stroke="#222" stroke-width="1.30" stroke-dasharray="4.2,2.2"/>
<path d="M170.3,247.5 C170.2,248.6 168.9,251.7 169.8,254.0 C170.8,256.3 172.3,259.2 176.0,261.5 C179.7,263.8 183.0,265.9 192.0,267.5 C201.0,269.1 216.3,270.4 230.0,271.0 C243.7,271.6 266.8,271.0 274.1,271.0" fill="none" stroke="#222" stroke-width="1.30" stroke-dasharray="4.2,2.2"/>
<path d="M274.1,226.0 C273.2,225.8 272.1,225.7 269.0,225.0 C265.9,224.3 258.8,222.6 255.4,222.0 C252.0,221.4 249.7,221.6 248.5,221.5" fill="none" stroke="#222" stroke-width="1.30" stroke-dasharray="4.2,2.2"/>
<path d="M236.5,220.8 C236.0,220.8 236.1,220.2 233.6,220.7 C231.1,221.2 225.6,222.0 221.5,223.7 C217.4,225.4 213.6,228.7 209.3,231.0 C205.1,233.3 199.2,235.7 196.0,237.7 C192.8,239.7 191.4,240.9 190.0,243.0 C188.6,245.1 187.6,247.7 187.8,250.0 C188.0,252.3 188.6,254.8 191.0,257.0 C193.4,259.2 195.5,261.4 202.0,263.0 C208.5,264.6 218.0,265.9 230.0,266.5 C242.0,267.1 266.8,266.5 274.1,266.5" fill="none" stroke="#222" stroke-width="1.30" stroke-dasharray="4.2,2.2"/>
<path d="M274.1,232.7 C273.2,232.6 269.4,232.4 268.5,232.3" fill="none" stroke="#222" stroke-width="1.30" stroke-dasharray="4.2,2.2"/>
<path d="M256.0,229.5 C255.4,229.3 254.2,228.4 252.4,228.1 C250.6,227.8 248.1,227.7 245.0,227.9 C241.9,228.1 237.5,228.4 233.6,229.2 C229.7,230.0 225.6,231.0 221.5,232.8 C217.4,234.6 212.8,237.3 209.3,240.0 C205.8,242.7 201.4,246.2 200.5,249.0 C199.6,251.8 201.6,254.5 204.0,256.5 C206.4,258.5 209.8,260.0 215.0,261.0 C220.2,262.0 227.2,262.3 235.0,262.3 C242.8,262.3 255.5,261.5 262.0,261.0 C268.5,260.5 272.1,259.8 274.1,259.5" fill="none" stroke="#222" stroke-width="1.30" stroke-dasharray="4.2,2.2"/>
<path d="M274.1,247.0 C273.0,246.0 270.7,242.8 267.6,241.0 C264.5,239.2 260.0,237.4 255.4,236.5 C250.8,235.6 245.1,235.5 240.2,235.8 C235.3,236.1 230.4,237.0 226.0,238.5 C221.6,240.0 216.1,242.8 214.0,245.0 C211.9,247.2 212.0,249.6 213.5,251.5 C215.0,253.4 218.6,255.4 223.0,256.5 C227.4,257.6 234.2,258.0 240.0,258.0 C245.8,258.0 253.3,257.4 258.0,256.5 C262.7,255.6 265.3,253.6 268.0,252.5 C270.7,251.4 273.1,250.4 274.1,250.0" fill="none" stroke="#222" stroke-width="1.30" stroke-dasharray="4.2,2.2"/>
<ellipse cx="240.7" cy="249.4" rx="8.0" ry="3.9" fill="none" stroke="#222" stroke-width="1.30" stroke-dasharray="4.2,2.2"/>
<path d="M88.0,284.0 C89.7,283.2 93.5,280.4 98.0,279.3 C102.5,278.2 109.4,278.3 114.8,277.3 C120.2,276.3 126.3,274.7 130.6,273.4 C134.9,272.1 137.2,270.4 140.5,269.4 C143.8,268.4 147.7,267.6 150.3,267.4 C152.9,267.2 155.1,267.9 156.0,268.0" fill="none" stroke="#222" stroke-width="1.30" stroke-dasharray="4.2,2.2"/>
<path d="M170.0,270.3 C172.6,270.8 180.1,272.6 185.5,273.5 C190.9,274.4 195.2,274.7 202.6,275.6 C210.0,276.5 218.1,278.1 230.0,278.8 C241.9,279.5 266.8,279.8 274.1,280.0" fill="none" stroke="#222" stroke-width="1.30" stroke-dasharray="4.2,2.2"/>
<path d="M31.6,263.1 C34.6,263.2 44.1,263.5 49.8,263.9 C55.5,264.3 62.0,264.6 65.6,265.5 C69.2,266.4 69.2,267.4 71.5,269.4 C73.8,271.4 76.8,274.9 79.4,277.3 C82.0,279.7 86.0,282.9 87.3,284.0" fill="none" stroke="#222" stroke-width="1.30" stroke-dasharray="4.2,2.2"/>
<path d="M31.6,272.4 C33.3,272.7 39.2,273.3 41.9,274.3 C44.6,275.3 46.0,276.5 47.8,278.3 C49.6,280.1 51.9,283.9 52.7,285.0" fill="none" stroke="#222" stroke-width="1.30" stroke-dasharray="4.2,2.2"/>
<path d="M91.0,246.0 C91.5,245.6 92.8,243.8 94.0,243.5 C95.2,243.2 97.2,243.6 98.0,244.5 C98.8,245.4 99.3,247.8 99.0,249.0 C98.7,250.2 97.2,251.4 96.0,252.0 C94.8,252.6 92.7,252.4 92.0,252.5" fill="none" stroke="#222" stroke-width="1.30" stroke-dasharray="4.2,2.2"/>
<path d="M50.0,219.5 C51.0,219.2 54.0,217.8 56.0,217.5 C58.0,217.2 61.0,217.9 62.0,218.0" fill="none" stroke="#222" stroke-width="1.30" stroke-dasharray="4.2,2.2"/>
<path d="M134.7,202.3 C135.7,204.0 139.4,209.2 140.8,212.5 C142.2,215.8 142.8,219.1 143.2,222.0 C143.6,224.9 143.1,227.6 143.0,230.0 C142.9,232.4 143.2,234.1 142.4,236.4 C141.7,238.7 140.4,241.4 138.5,244.0 C136.6,246.6 133.7,249.3 130.9,251.7 C128.1,254.0 125.1,256.2 121.9,258.1 C118.7,260.0 114.9,261.8 111.7,263.2 C108.5,264.6 105.1,265.8 102.8,266.4 C100.5,267.0 98.5,266.9 97.7,267.0" fill="none" stroke="#fa0f0f" stroke-width="2" stroke-linecap="round"/>
<path d="M132.3,202.3 C133.3,204.1 137.0,209.7 138.5,213.0 C140.0,216.3 140.8,219.2 141.3,222.0 C141.9,224.8 142.0,227.6 141.8,230.0 C141.7,232.4 141.4,234.1 140.4,236.4 C139.4,238.7 138.0,241.4 136.0,244.0 C134.0,246.6 131.1,249.4 128.3,251.7 C125.5,253.9 122.6,255.7 119.4,257.5 C116.2,259.3 112.6,261.2 109.2,262.6 C105.8,264.0 101.7,265.0 98.9,265.8 C96.1,266.6 93.6,267.4 92.6,267.7" fill="none" stroke="#1eeb1e" stroke-width="2" stroke-linecap="round"/>
<g transform="translate(156.2,217.2) rotate(-42.0)"><rect x="-6.0" y="-3.7" width="12.0" height="7.4" fill="#fff"/><text x="0" y="2.7" text-anchor="middle" class="s">-20</text></g>
<g transform="translate(187.8,222.8) rotate(-35.0)"><rect x="-6.0" y="-3.7" width="12.0" height="7.4" fill="#fff"/><text x="0" y="2.7" text-anchor="middle" class="s">-30</text></g>
<g transform="translate(176.7,241.8) rotate(-45.0)"><rect x="-6.0" y="-3.7" width="12.0" height="7.4" fill="#fff"/><text x="0" y="2.7" text-anchor="middle" class="s">-40</text></g>
<g transform="translate(242.5,221.3) rotate(0.0)"><rect x="-6.0" y="-3.7" width="12.0" height="7.4" fill="#fff"/><text x="0" y="2.7" text-anchor="middle" class="s">-50</text></g>
<g transform="translate(262.2,231.0) rotate(-8.0)"><rect x="-6.0" y="-3.7" width="12.0" height="7.4" fill="#fff"/><text x="0" y="2.7" text-anchor="middle" class="s">-60</text></g>
<g transform="translate(163.0,268.8) rotate(8.0)"><rect x="-6.0" y="-3.7" width="12.0" height="7.4" fill="#fff"/><text x="0" y="2.7" text-anchor="middle" class="s">-30</text></g>
<g transform="translate(69.5,252.6) rotate(60.0)"><rect x="-6.0" y="-3.7" width="12.0" height="7.4" fill="#fff"/><text x="0" y="2.7" text-anchor="middle" class="s">-40</text></g></g>
<g clip-path="url(#clipc)"><rect x="295.8" y="19.5" width="238.5" height="120.0" fill="#0a69f0"/>
<path d="M293.8,106.5 C299.6,106.4 319.4,105.7 328.8,106.0 C338.2,106.3 344.6,107.0 350.0,108.3 C355.4,109.6 357.4,112.0 361.0,113.8 C364.6,115.6 368.3,117.8 371.9,119.2 C375.5,120.7 379.1,121.4 382.8,122.5 C386.5,123.6 387.6,125.0 393.8,125.8 C400.0,126.6 412.3,126.8 420.0,127.3 C427.7,127.8 433.6,127.9 440.0,128.6 C446.4,129.3 452.9,130.4 458.2,131.4 C463.5,132.4 467.7,134.0 472.0,134.8 C476.3,135.6 480.2,136.4 484.0,136.3 C487.8,136.2 490.8,135.5 495.0,134.5 C499.2,133.5 502.1,131.8 509.0,130.5 C515.9,129.2 531.8,127.4 536.3,126.8 L536.3,0.0 L293.8,0.0 Z" fill="#0096f5"/>
<path d="M293.8,89.5 C298.2,89.6 311.5,89.8 320.0,90.0 C328.5,90.2 338.2,90.1 345.0,90.5 C351.8,90.9 356.4,90.8 360.9,92.5 C365.4,94.2 368.2,98.1 371.9,100.6 C375.5,103.0 379.1,105.2 382.8,107.2 C386.5,109.2 389.8,111.4 393.8,112.7 C397.8,114.0 400.8,114.3 406.9,114.8 C413.0,115.3 423.1,115.3 430.4,115.7 C437.7,116.1 440.8,116.9 450.7,117.2 C460.6,117.5 475.7,117.8 490.0,117.7 C504.3,117.6 528.6,117.0 536.3,116.8 L536.3,0.0 L293.8,0.0 Z" fill="#00bef8"/>
<path d="M293.8,69.0 C296.7,68.8 305.9,68.6 311.2,68.0 C316.5,67.4 321.9,66.5 325.8,65.3 C329.8,64.1 331.9,62.5 334.9,60.7 C337.9,58.9 340.9,56.4 344.0,54.4 C347.1,52.4 350.0,50.4 353.2,48.9 C356.4,47.4 359.2,46.7 363.0,45.3 C366.8,43.9 370.9,41.8 376.2,40.7 C381.4,39.6 386.7,39.4 394.5,38.9 C402.3,38.4 415.2,38.1 423.0,38.0 C430.8,37.9 435.1,38.2 441.2,38.5 C447.3,38.8 455.4,39.1 459.5,39.8 C463.6,40.5 465.2,41.1 465.8,42.5 C466.4,43.9 465.7,46.2 463.1,48.0 C460.5,49.8 454.2,51.7 450.3,53.5 C446.4,55.3 441.9,56.8 439.4,58.9 C436.8,61.0 435.4,63.2 435.0,66.2 C434.6,69.2 436.1,73.5 437.0,77.0 C437.9,80.5 440.0,83.8 440.5,87.2 C441.0,90.6 439.4,95.0 439.8,97.4 C440.2,99.8 440.5,100.2 443.0,101.5 C445.5,102.8 449.2,103.9 455.0,105.5 C460.8,107.1 464.4,110.0 478.0,111.0 C491.6,112.0 526.6,111.5 536.3,111.6 L536.3,0.0 L293.8,0.0 Z" fill="#96dcf5"/>
<path d="M293.8,44.3 C296.7,43.5 305.2,41.2 311.2,39.8 C317.1,38.4 323.4,37.2 329.5,36.1 C335.6,35.0 342.6,33.9 347.7,33.0 C352.8,32.1 355.2,31.5 360.0,30.8 C364.8,30.1 370.4,29.3 376.2,28.8 C381.9,28.3 386.7,28.3 394.5,27.9 C402.3,27.4 413.7,26.7 423.0,26.1 C432.3,25.5 441.2,24.9 450.3,24.3 C459.4,23.7 470.1,23.1 477.7,22.5 C485.3,21.9 490.1,21.2 496.2,20.6 C502.3,20.1 507.8,19.6 514.5,19.2 C521.2,18.8 532.7,18.6 536.3,18.5 L536.3,0.0 L293.8,0.0 Z" fill="#fdef64"/>
<path d="M459.0,73.0 C460.4,69.7 463.2,64.8 466.0,62.0 C468.8,59.2 472.0,57.7 476.0,56.5 C480.0,55.3 485.2,54.8 490.0,54.6 C494.8,54.4 500.0,54.9 505.0,55.5 C510.0,56.1 515.8,57.3 520.0,58.3 C524.2,59.2 526.7,60.2 530.0,61.2 C533.3,62.2 538.3,56.9 540.0,64.0 C541.7,71.1 543.3,97.2 540.0,104.0 C536.7,110.8 527.5,104.7 520.0,105.0 C512.5,105.3 502.3,105.8 495.0,106.0 C487.7,106.2 480.8,106.3 476.0,106.0 C471.2,105.7 468.7,105.0 466.0,104.0 C463.3,103.0 461.4,102.1 460.0,100.0 C458.6,97.9 458.2,94.3 457.8,91.3 C457.4,88.3 457.6,85.0 457.8,82.0 C458.0,79.0 457.6,76.3 459.0,73.0 Z" fill="#fdef64"/>
<path d="M475.0,84.0 C475.2,80.5 476.3,75.8 478.0,73.0 C479.7,70.2 482.2,68.7 485.0,67.5 C487.8,66.3 491.7,66.0 495.0,65.8 C498.3,65.6 501.8,65.9 505.0,66.5 C508.2,67.1 510.8,68.3 514.0,69.5 C517.2,70.7 521.0,72.1 524.0,73.5 C527.0,74.9 529.5,76.2 532.0,78.0 C534.5,79.8 537.7,82.0 539.0,84.0 C540.3,86.0 540.5,88.3 540.0,90.0 C539.5,91.7 539.3,92.5 536.0,94.3 C532.7,96.1 526.0,99.4 520.0,100.6 C514.0,101.8 506.3,101.8 500.0,101.7 C493.7,101.6 485.8,101.1 482.0,99.8 C478.2,98.5 478.2,96.6 477.0,94.0 C475.8,91.4 474.8,87.5 475.0,84.0 Z" fill="#ffc200"/>
<path d="M377.3,84.5 C378.0,83.3 382.2,81.5 385.0,80.5 C387.8,79.5 390.2,79.0 394.0,78.8 C397.8,78.6 404.0,78.8 408.0,79.2 C412.0,79.7 415.8,80.5 418.0,81.5 C420.2,82.5 421.5,83.7 421.0,85.0 C420.5,86.3 417.7,88.4 415.0,89.5 C412.3,90.6 408.9,91.4 404.7,91.5 C400.5,91.6 393.9,90.7 390.0,90.0 C386.1,89.3 383.1,88.4 381.0,87.5 C378.9,86.6 376.6,85.7 377.3,84.5 Z" fill="#0096f5"/>
<path d="M294.8,28.5 L297.8,27.7 L301.8,27.3 L305.7,27.5 L309.7,26.7 L313.7,26.5 L316.7,25.7 L319.7,24.9 L324.0,24.1 L327.6,24.9 L330.6,25.7 L333.6,26.1 L337.5,26.1 L341.1,26.9 L342.7,28.3 L340.5,29.9 L336.5,31.1 L333.6,32.3 L332.6,33.1 L336.5,32.3 L340.5,31.9 L343.5,32.3 L347.5,32.3 L352.4,32.3 L355.4,33.3 L359.4,33.7 L363.4,32.7 L368.3,32.5 L372.3,33.1 L374.3,34.9 L373.3,35.9 L375.3,37.5 L378.3,37.7 L380.3,36.5 L382.3,36.5 L386.2,36.3 L389.2,36.7 L393.2,35.5 L394.8,34.5 L397.2,34.1 L400.1,34.1 L405.1,35.1 L409.1,34.9 L415.1,36.3 L418.0,36.9 L420.0,37.7 L423.0,37.7 L427.0,37.5 L431.0,37.9 L433.9,38.5 L435.9,39.9 L438.9,40.3 L442.9,40.1 L446.9,40.5 L450.8,39.9 L453.8,41.9 L455.8,39.7 L459.8,39.7 L464.7,39.9 L467.7,40.3 L471.7,40.9 L474.7,41.7 L478.6,42.5 L482.6,43.7 L486.6,45.1 L489.6,46.3 L492.6,46.7 L495.1,47.3 L493.6,48.5 L490.6,49.7 L488.6,50.9 L485.6,50.3 L481.6,49.1 L478.6,49.5 L474.7,50.1 L471.7,50.3 L468.7,50.1 L467.7,51.1 L469.7,52.9 L472.7,54.5 L470.7,54.9 L466.7,54.7 L462.8,55.9 L458.8,57.5 L455.4,59.5 L450.8,58.7 L446.9,59.5 L443.9,59.9 L441.5,60.7 L440.9,61.9 L438.9,63.1 L439.9,63.9 L441.5,64.5 L439.9,66.5 L441.5,67.3 L438.5,69.5 L435.9,70.9 L434.9,72.9 L432.3,73.9 L431.0,75.1 L430.0,76.3 L428.4,77.5 L428.0,76.5 L427.4,74.5 L427.0,71.9 L426.2,69.1 L426.6,66.5 L428.4,64.9 L430.0,63.9 L431.9,63.1 L434.5,61.5 L436.9,59.3 L440.5,57.1 L441.9,55.5 L438.9,56.3 L435.9,56.1 L432.9,55.9 L429.0,56.5 L427.0,57.5 L425.0,59.9 L423.0,60.7 L419.0,61.5 L417.0,61.1 L416.0,60.5 L413.1,60.9 L410.1,60.9 L406.1,60.7 L402.1,60.9 L399.1,61.5 L397.2,62.5 L395.8,63.9 L393.6,65.1 L391.2,66.3 L389.8,67.9 L388.4,69.9 L389.8,70.9 L391.6,71.5 L394.2,71.1 L396.2,72.3 L398.0,73.9 L397.6,75.9 L396.8,77.5 L396.2,79.1 L396.0,80.5 L395.8,82.5 L394.4,83.9 L392.2,85.5 L390.2,87.3 L388.2,89.1 L386.2,91.1 L384.2,92.9 L381.7,93.9 L379.9,93.1 L378.3,93.5 L377.5,94.3 L376.7,94.9 L375.7,95.5 L374.7,97.1 L374.5,97.9 L373.3,98.5 L372.3,99.5 L370.7,99.9 L370.1,101.1 L371.7,102.1 L372.5,103.1 L373.7,104.5 L374.1,106.3 L374.3,107.9 L373.9,108.9 L373.3,109.3 L372.1,109.7 L370.7,110.1 L369.1,110.7 L367.9,110.3 L368.1,109.1 L368.3,107.7 L368.5,106.5 L367.7,105.7 L368.9,104.9 L368.3,104.1 L366.8,103.9 L365.6,103.7 L364.8,103.1 L365.8,102.1 L366.0,100.7 L365.2,100.3 L364.0,99.7 L362.4,99.9 L360.4,100.7 L358.8,101.5 L357.8,101.9 L358.6,100.7 L358.4,99.7 L359.8,98.7 L359.2,97.9 L357.8,97.7 L356.4,98.7 L355.0,99.7 L354.0,100.7 L353.0,101.3 L351.6,101.1 L350.9,101.7 L350.7,102.7 L351.6,103.3 L353.0,104.1 L353.2,104.9 L354.6,105.3 L356.0,104.3 L357.0,103.9 L358.4,104.5 L360.2,104.7 L360.4,105.7 L358.4,105.9 L356.8,106.7 L355.8,107.7 L354.4,108.9 L354.0,110.1 L355.8,110.9 L356.6,112.7 L357.2,114.3 L358.2,115.1 L359.2,115.9 L359.0,116.9 L359.2,117.5 L358.4,118.1 L357.4,118.7 L358.6,119.3 L359.6,119.7 L359.2,121.1 L358.4,122.1 L358.0,123.1 L357.0,123.9 L356.4,124.9 L355.6,125.7 L354.6,126.5 L354.8,127.7 L354.0,128.7 L353.2,129.5 L352.6,130.3 L351.4,130.7 L350.7,131.5 L349.7,132.3 L348.7,132.9 L347.5,133.7 L346.1,134.1 L344.7,134.5 L343.9,134.9 L342.7,134.3 L342.5,135.1 L341.3,135.7 L339.9,136.1 L338.7,136.5 L337.3,136.7 L336.5,137.1 L336.1,138.3 L335.9,139.1 L335.4,138.5 L335.0,137.1 L334.6,136.5 L333.6,136.3 L332.6,136.3 L331.6,136.5 L330.6,136.7 L329.6,137.3 L329.0,138.1 L328.4,138.9 L327.8,139.7 L327.2,140.5 M294.8,135.5 L296.8,134.9 L298.2,134.3 L299.4,134.9 L299.6,136.5 L300.2,137.5 L300.8,138.3 L301.8,139.3 L302.8,140.1 M357.4,129.3 L358.6,128.9 L359.2,129.5 L359.0,130.7 L358.4,132.5 L357.8,133.9 L357.2,135.5 L356.8,134.9 L356.0,134.3 L355.6,133.5 L355.8,132.1 L356.4,130.9 L357.0,129.9 L357.4,129.3 M374.9,112.9 L375.9,112.3 L377.1,111.7 L378.1,112.3 L378.7,113.1 L379.1,114.5 L378.1,116.5 L377.3,117.1 L376.5,117.5 L375.7,116.9 L375.9,115.7 L375.3,114.5 L374.7,113.9 L374.9,112.9 M380.1,112.7 L381.1,113.9 L382.5,112.7 L383.8,112.9 L384.6,111.9 L384.0,111.1 L382.5,110.9 L381.3,111.5 L380.5,111.7 L380.1,112.7 M377.1,111.5 L377.7,110.7 L378.9,110.1 L380.5,108.7 L382.3,108.5 L384.2,108.3 L385.6,108.1 L387.0,108.3 L387.4,107.1 L388.6,105.7 L388.8,104.9 L389.8,104.5 L389.4,105.7 L390.2,105.7 L392.0,104.9 L393.0,103.9 L394.0,102.9 L394.6,101.5 L395.2,100.1 L395.0,98.5 L395.8,97.1 L396.8,97.3 L397.8,96.7 L398.2,98.5 L399.0,99.9 L399.1,100.9 L398.4,102.5 L397.2,103.1 L397.2,104.3 L397.0,105.9 L396.4,107.1 L396.8,108.1 L395.6,109.3 L394.8,109.7 L395.0,108.7 L394.4,108.9 L393.6,109.1 L393.0,110.3 L391.8,110.3 L389.8,110.1 L389.0,110.9 L388.2,111.5 L387.4,112.3 L386.6,112.5 L385.6,111.9 L385.6,110.9 L386.0,110.1 L384.6,109.9 L383.2,110.3 L381.9,110.7 L380.3,110.9 L379.3,111.7 L378.1,111.5 L377.1,111.5 M395.2,96.5 L395.8,95.1 L394.8,94.5 L395.8,92.9 L397.8,93.1 L398.6,90.9 L398.4,89.5 L399.0,88.5 L400.1,89.1 L402.1,90.9 L403.7,91.5 L404.7,91.7 L405.7,90.9 L405.3,92.3 L406.3,92.9 L405.1,93.5 L403.7,93.7 L401.9,95.1 L401.5,95.7 L400.1,94.9 L398.2,94.3 L397.0,94.5 L396.2,95.5 L397.4,95.9 L396.6,96.3 L395.2,96.5 M399.1,87.5 L399.7,86.3 L401.9,86.5 L400.9,85.1 L400.3,83.9 L400.5,81.7 L401.7,80.9 L403.9,81.5 L402.7,80.1 L401.5,77.5 L401.3,74.9 L401.5,72.9 L400.7,71.1 L399.9,70.9 L400.3,72.3 L399.5,72.7 L398.6,72.9 L398.8,74.7 L398.4,76.5 L399.1,78.5 L399.3,81.5 L399.1,83.5 L399.0,85.5 L399.1,87.5 M472.1,37.5 L474.7,37.7 L477.7,37.3 L479.6,36.9 L476.7,36.3 L473.7,36.5 L472.1,37.5 M536.3,39.3 L533.3,38.7 L530.3,38.3 L527.3,37.7 L524.4,37.1 L521.4,36.7 L518.4,37.5 L515.4,37.9 L512.4,38.3 L509.5,38.9 L507.5,39.7 L505.5,40.5 L503.5,41.3 L501.5,41.7 L500.9,42.7 L503.5,43.5 L506.1,44.1 L507.5,44.7 L509.5,45.3 L509.5,46.3 L507.5,46.7 L504.5,46.5 L503.1,47.1 L500.9,47.9 L498.9,48.3 L499.5,49.1 L501.5,50.1 L504.5,50.5 L506.5,50.3 L508.5,50.7 L511.4,50.9 L513.4,51.7 L512.4,52.5 L510.5,53.1 L507.5,53.9 L504.9,54.3 L503.5,55.9 L502.5,57.5 L504.5,58.7 L507.1,59.9 L509.5,60.5 L510.5,61.9 L513.4,62.1 L516.4,61.7 L519.4,62.1 L520.0,63.1 L518.4,64.5 L515.4,65.7 L513.2,66.7 L510.8,67.7 L508.5,68.5 L506.9,69.3 L505.5,69.7 L507.5,69.5 L510.1,69.1 L512.4,68.5 L514.8,67.9 L517.4,66.7 L520.0,65.3 L522.4,64.3 L524.8,63.1 L526.4,62.3 L527.9,61.3 L529.5,61.1 L530.9,60.7 L531.9,59.7 L533.3,58.9 L535.3,58.3 M525.4,65.5 L527.3,65.1 L529.3,64.3 L529.7,63.3 L528.3,62.7 L526.4,63.5 L525.4,64.3 L525.4,65.5 M446.3,69.1 L448.0,70.1 M491.6,52.9 L493.6,53.3 L495.5,52.9 L497.1,53.1 L495.5,52.1 L493.6,51.9 L491.6,52.9 M502.1,59.5 L504.1,59.7 L503.5,58.7 L502.1,58.9 L502.1,59.5 M323.2,76.3 L324.6,76.3 L326.6,75.7 L328.6,74.7 L330.6,73.3 L332.6,72.1 L334.2,70.5 L334.8,68.9 L334.4,67.9 L333.6,68.9 L332.4,70.5 L330.0,72.3 L328.2,73.5 L326.2,74.7 L324.2,75.7 L323.2,76.3 M406.9,92.7 L408.7,91.9 M408.3,90.7 L411.1,89.1 M411.5,88.9 L414.1,87.1 M415.6,87.1 L417.0,85.9 M418.8,85.5 L419.6,84.5 M421.0,83.3 L421.8,82.3 M423.0,81.7 L424.0,80.9 M424.6,80.3 L425.6,79.3 M426.0,79.1 L428.0,77.7 M389.6,29.1 L392.2,29.9 L396.2,30.1 L400.1,29.7 L403.1,29.5 L405.1,28.7 L403.1,27.9 L399.1,27.5 L395.2,27.3 L391.8,27.7 L389.6,29.1 M409.5,29.5 L413.1,29.9 L416.6,29.3 L414.1,28.5 L411.1,28.7 L409.5,29.5 M394.2,32.5 L397.2,32.9 L401.7,32.7 L400.1,31.9 L397.2,31.7 L394.2,32.5 M301.8,20.1 L307.7,21.1 L313.7,21.3 L317.7,20.5 L316.7,19.1 L309.7,18.3 L303.8,19.1 L301.8,20.1 M313.7,21.9 L319.7,23.1 L325.6,22.9 L324.6,21.7 L317.7,21.3 L313.7,21.9 M501.5,71.7 L505.5,70.5 M496.5,73.3 L500.5,72.5 M490.6,74.1 L494.6,73.7 M482.6,75.5 L486.6,75.1 M476.7,75.9 L480.6,75.7 M471.7,76.3 L475.7,75.7 M459.8,73.7 L462.8,73.9 M515.0,135.1 L515.8,135.5 M518.0,136.3 L519.0,136.9 M520.0,137.2 L521.0,137.3 M521.6,137.7 L522.4,138.1 M522.8,138.9 L523.6,139.5" fill="none" stroke="#c6c6c6" stroke-width="1.05" stroke-linejoin="round"/>
<path d="M398.0,59.4 C398.8,61.8 401.4,69.2 402.5,73.5 C403.6,77.8 404.4,82.4 404.7,85.5 C405.0,88.6 404.9,89.8 404.4,92.0 C403.9,94.2 403.4,96.3 401.7,99.0 C400.0,101.7 397.1,105.3 394.2,108.1 C391.3,110.8 387.9,113.5 384.2,115.5 C380.5,117.5 375.7,118.8 371.8,120.0 C367.9,121.2 363.6,121.9 360.9,122.5 C358.2,123.1 356.6,123.2 355.7,123.4" fill="none" stroke="#fa0f0f" stroke-width="2" stroke-linecap="round"/></g>
<g clip-path="url(#clipd)"><rect x="295.8" y="163.0" width="238.5" height="120.0" fill="#0a69f0"/>
<path d="M293.8,242.8 C297.9,242.7 310.9,241.6 318.4,242.0 C325.9,242.4 333.7,243.6 338.8,245.0 C343.9,246.4 346.5,247.8 349.0,250.4 C351.5,253.0 351.5,257.6 354.0,260.6 C356.5,263.6 359.5,266.6 364.2,268.3 C368.9,270.0 374.8,270.2 382.0,270.8 C389.2,271.4 399.0,271.9 407.5,272.1 C416.0,272.3 426.9,272.5 433.0,272.1 C439.1,271.8 438.9,270.1 444.3,270.0 C449.7,269.9 457.5,271.1 465.6,271.4 C473.7,271.7 481.6,272.5 493.0,272.0 C504.4,271.5 526.8,268.9 534.0,268.2 C541.2,267.5 535.9,268.0 536.3,268.0 L536.3,0.0 L293.8,0.0 Z" fill="#0096f5"/>
<path d="M293.8,222.2 C297.2,222.2 306.6,222.3 314.3,222.5 C322.0,222.7 333.7,222.8 340.0,223.5 C346.3,224.2 348.0,224.8 352.0,226.5 C356.0,228.2 360.0,230.8 364.2,233.5 C368.4,236.2 373.2,240.0 377.0,242.8 C380.8,245.6 383.3,248.3 387.1,250.4 C390.9,252.5 395.2,254.2 399.9,255.5 C404.6,256.8 409.6,257.5 415.1,258.1 C420.6,258.8 428.1,259.3 433.0,259.4 C437.9,259.5 438.9,258.7 444.3,258.9 C449.7,259.1 457.5,260.0 465.6,260.7 C473.7,261.4 485.6,262.8 493.0,262.9 C500.4,263.0 502.8,262.0 510.0,261.5 C517.2,261.0 531.9,260.0 536.3,259.7 L536.3,0.0 L293.8,0.0 Z" fill="#00bef8"/>
<path d="M293.8,201.0 C296.7,200.7 305.2,200.1 311.2,199.2 C317.1,198.3 323.4,196.9 329.5,195.5 C335.6,194.1 342.1,192.1 347.7,191.0 C353.3,189.9 358.2,189.6 363.0,189.2 C367.8,188.8 370.9,188.6 376.2,188.3 C381.4,188.0 388.4,187.3 394.5,187.3 C400.6,187.3 408.4,187.6 412.7,188.3 C416.9,189.0 418.0,190.2 420.0,191.5 C422.0,192.8 423.4,194.2 424.5,196.0 C425.6,197.8 425.6,199.7 426.5,202.0 C427.4,204.3 429.0,207.8 430.0,210.0 C431.0,212.2 431.6,212.4 432.6,215.0 C433.6,217.6 434.4,221.7 435.8,225.6 C437.2,229.5 439.0,235.2 441.1,238.4 C443.2,241.6 444.4,242.7 448.5,244.8 C452.6,246.9 459.9,249.6 465.6,251.2 C471.3,252.8 476.9,253.8 482.6,254.4 C488.3,255.0 491.1,255.3 500.0,254.8 C508.9,254.3 530.2,251.8 536.3,251.2 L536.3,0.0 L293.8,0.0 Z" fill="#96dcf5"/>
<path d="M293.8,185.5 C296.7,185.2 305.2,184.3 311.2,183.7 C317.1,183.1 323.4,182.5 329.5,181.9 C335.6,181.3 342.1,180.6 347.7,180.0 C353.3,179.4 358.2,178.9 363.0,178.2 C367.8,177.5 370.9,176.5 376.2,176.0 C381.4,175.5 386.7,175.2 394.5,175.0 C402.3,174.8 415.2,174.8 423.0,174.6 C430.8,174.4 435.1,174.1 441.2,173.7 C447.3,173.3 453.4,172.8 459.5,172.4 C465.6,172.0 471.6,171.6 477.7,171.3 C483.8,171.0 490.1,170.8 496.2,170.6 C502.3,170.4 509.6,170.2 514.5,170.0 C519.4,169.8 521.8,169.7 525.4,169.1 C529.0,168.5 534.5,166.9 536.3,166.5 L536.3,0.0 L293.8,0.0 Z" fill="#fdef64"/>
<path d="M464.5,227.8 C463.7,224.8 464.1,220.6 465.0,218.0 C465.9,215.4 467.8,213.4 470.0,212.0 C472.2,210.6 475.2,210.2 478.0,209.5 C480.8,208.8 483.3,208.7 487.0,208.0 C490.7,207.3 495.8,206.6 500.0,205.5 C504.2,204.4 508.7,202.8 512.0,201.5 C515.3,200.2 517.3,198.6 520.0,197.5 C522.7,196.4 524.7,195.5 528.0,194.8 C531.3,194.1 538.0,185.5 540.0,193.5 C542.0,201.5 543.3,234.3 540.0,243.0 C536.7,251.7 526.8,245.1 520.0,245.5 C513.2,245.9 504.5,245.4 499.0,245.5 C493.5,245.6 490.2,246.4 486.8,245.9 C483.4,245.4 481.1,244.3 478.3,242.7 C475.5,241.1 472.1,238.8 469.8,236.3 C467.5,233.8 465.3,230.9 464.5,227.8 Z" fill="#fdef64"/>
<path d="M501.4,231.0 C501.8,229.5 503.2,228.3 505.0,227.5 C506.8,226.7 508.7,226.4 512.0,226.2 C515.3,226.0 520.1,226.2 524.8,226.5 C529.5,226.8 537.5,225.7 540.0,228.0 C542.5,230.3 543.2,238.1 540.0,240.5 C536.8,242.9 526.0,242.9 520.6,242.7 C515.2,242.5 510.8,240.6 507.8,239.5 C504.8,238.4 503.6,237.7 502.5,236.3 C501.4,234.9 501.0,232.5 501.4,231.0 Z" fill="#ffc200"/>
<path d="M293.8,168.8 C297.3,168.7 309.6,168.5 314.8,168.2 C320.0,167.9 320.9,167.5 325.0,167.2 C329.1,166.9 335.5,166.7 339.5,166.3 C343.5,165.9 346.6,165.6 349.0,165.0 C351.4,164.4 352.7,163.7 354.0,163.0 C355.3,162.3 356.5,161.3 357.0,161.0 L357.0,150.0 L293.8,150.0 Z" fill="#ffc200"/>
<path d="M322.0,162.0 C322.7,162.4 323.3,164.1 326.0,164.6 C328.7,165.1 334.3,165.0 338.0,165.0 C341.7,165.0 345.7,165.1 348.0,164.6 C350.3,164.1 351.3,162.4 352.0,162.0 L352.0,150.0 L322.0,150.0 Z" fill="#ff8200"/>
<path d="M294.8,172.0 L297.8,171.2 L301.8,170.8 L305.7,171.0 L309.7,170.2 L313.7,170.0 L316.7,169.2 L319.7,168.4 L324.0,167.6 L327.6,168.4 L330.6,169.2 L333.6,169.6 L337.5,169.6 L341.1,170.4 L342.7,171.8 L340.5,173.4 L336.5,174.6 L333.6,175.8 L332.6,176.6 L336.5,175.8 L340.5,175.4 L343.5,175.8 L347.5,175.8 L352.4,175.8 L355.4,176.8 L359.4,177.2 L363.4,176.2 L368.3,176.0 L372.3,176.6 L374.3,178.4 L373.3,179.4 L375.3,181.0 L378.3,181.2 L380.3,180.0 L382.3,180.0 L386.2,179.8 L389.2,180.2 L393.2,179.0 L394.8,178.0 L397.2,177.6 L400.1,177.6 L405.1,178.6 L409.1,178.4 L415.1,179.8 L418.0,180.4 L420.0,181.2 L423.0,181.2 L427.0,181.0 L431.0,181.4 L433.9,182.0 L435.9,183.4 L438.9,183.8 L442.9,183.6 L446.9,184.0 L450.8,183.4 L453.8,185.4 L455.8,183.2 L459.8,183.2 L464.7,183.4 L467.7,183.8 L471.7,184.4 L474.7,185.2 L478.6,186.0 L482.6,187.2 L486.6,188.6 L489.6,189.8 L492.6,190.2 L495.1,190.8 L493.6,192.0 L490.6,193.2 L488.6,194.4 L485.6,193.8 L481.6,192.6 L478.6,193.0 L474.7,193.6 L471.7,193.8 L468.7,193.6 L467.7,194.6 L469.7,196.4 L472.7,198.0 L470.7,198.4 L466.7,198.2 L462.8,199.4 L458.8,201.0 L455.4,203.0 L450.8,202.2 L446.9,203.0 L443.9,203.4 L441.5,204.2 L440.9,205.4 L438.9,206.6 L439.9,207.4 L441.5,208.0 L439.9,210.0 L441.5,210.8 L438.5,213.0 L435.9,214.4 L434.9,216.4 L432.3,217.4 L431.0,218.6 L430.0,219.8 L428.4,221.0 L428.0,220.0 L427.4,218.0 L427.0,215.4 L426.2,212.6 L426.6,210.0 L428.4,208.4 L430.0,207.4 L431.9,206.6 L434.5,205.0 L436.9,202.8 L440.5,200.6 L441.9,199.0 L438.9,199.8 L435.9,199.6 L432.9,199.4 L429.0,200.0 L427.0,201.0 L425.0,203.4 L423.0,204.2 L419.0,205.0 L417.0,204.6 L416.0,204.0 L413.1,204.4 L410.1,204.4 L406.1,204.2 L402.1,204.4 L399.1,205.0 L397.2,206.0 L395.8,207.4 L393.6,208.6 L391.2,209.8 L389.8,211.4 L388.4,213.4 L389.8,214.4 L391.6,215.0 L394.2,214.6 L396.2,215.8 L398.0,217.4 L397.6,219.4 L396.8,221.0 L396.2,222.6 L396.0,224.0 L395.8,226.0 L394.4,227.4 L392.2,229.0 L390.2,230.8 L388.2,232.6 L386.2,234.6 L384.2,236.4 L381.7,237.4 L379.9,236.6 L378.3,237.0 L377.5,237.8 L376.7,238.4 L375.7,239.0 L374.7,240.6 L374.5,241.4 L373.3,242.0 L372.3,243.0 L370.7,243.4 L370.1,244.6 L371.7,245.6 L372.5,246.6 L373.7,248.0 L374.1,249.8 L374.3,251.4 L373.9,252.4 L373.3,252.8 L372.1,253.2 L370.7,253.6 L369.1,254.2 L367.9,253.8 L368.1,252.6 L368.3,251.2 L368.5,250.0 L367.7,249.2 L368.9,248.4 L368.3,247.6 L366.8,247.4 L365.6,247.2 L364.8,246.6 L365.8,245.6 L366.0,244.2 L365.2,243.8 L364.0,243.2 L362.4,243.4 L360.4,244.2 L358.8,245.0 L357.8,245.4 L358.6,244.2 L358.4,243.2 L359.8,242.2 L359.2,241.4 L357.8,241.2 L356.4,242.2 L355.0,243.2 L354.0,244.2 L353.0,244.8 L351.6,244.6 L350.9,245.2 L350.7,246.2 L351.6,246.8 L353.0,247.6 L353.2,248.4 L354.6,248.8 L356.0,247.8 L357.0,247.4 L358.4,248.0 L360.2,248.2 L360.4,249.2 L358.4,249.4 L356.8,250.2 L355.8,251.2 L354.4,252.4 L354.0,253.6 L355.8,254.4 L356.6,256.2 L357.2,257.8 L358.2,258.6 L359.2,259.4 L359.0,260.4 L359.2,261.0 L358.4,261.6 L357.4,262.2 L358.6,262.8 L359.6,263.2 L359.2,264.6 L358.4,265.6 L358.0,266.6 L357.0,267.4 L356.4,268.4 L355.6,269.2 L354.6,270.0 L354.8,271.2 L354.0,272.2 L353.2,273.0 L352.6,273.8 L351.4,274.2 L350.7,275.0 L349.7,275.8 L348.7,276.4 L347.5,277.2 L346.1,277.6 L344.7,278.0 L343.9,278.4 L342.7,277.8 L342.5,278.6 L341.3,279.2 L339.9,279.6 L338.7,280.0 L337.3,280.2 L336.5,280.6 L336.1,281.8 L335.9,282.6 L335.4,282.0 L335.0,280.6 L334.6,280.0 L333.6,279.8 L332.6,279.8 L331.6,280.0 L330.6,280.2 L329.6,280.8 L329.0,281.6 L328.4,282.4 L327.8,283.2 L327.2,284.0 M294.8,279.0 L296.8,278.4 L298.2,277.8 L299.4,278.4 L299.6,280.0 L300.2,281.0 L300.8,281.8 L301.8,282.8 L302.8,283.6 M357.4,272.8 L358.6,272.4 L359.2,273.0 L359.0,274.2 L358.4,276.0 L357.8,277.4 L357.2,279.0 L356.8,278.4 L356.0,277.8 L355.6,277.0 L355.8,275.6 L356.4,274.4 L357.0,273.4 L357.4,272.8 M374.9,256.4 L375.9,255.8 L377.1,255.2 L378.1,255.8 L378.7,256.6 L379.1,258.0 L378.1,260.0 L377.3,260.6 L376.5,261.0 L375.7,260.4 L375.9,259.2 L375.3,258.0 L374.7,257.4 L374.9,256.4 M380.1,256.2 L381.1,257.4 L382.5,256.2 L383.8,256.4 L384.6,255.4 L384.0,254.6 L382.5,254.4 L381.3,255.0 L380.5,255.2 L380.1,256.2 M377.1,255.0 L377.7,254.2 L378.9,253.6 L380.5,252.2 L382.3,252.0 L384.2,251.8 L385.6,251.6 L387.0,251.8 L387.4,250.6 L388.6,249.2 L388.8,248.4 L389.8,248.0 L389.4,249.2 L390.2,249.2 L392.0,248.4 L393.0,247.4 L394.0,246.4 L394.6,245.0 L395.2,243.6 L395.0,242.0 L395.8,240.6 L396.8,240.8 L397.8,240.2 L398.2,242.0 L399.0,243.4 L399.1,244.4 L398.4,246.0 L397.2,246.6 L397.2,247.8 L397.0,249.4 L396.4,250.6 L396.8,251.6 L395.6,252.8 L394.8,253.2 L395.0,252.2 L394.4,252.4 L393.6,252.6 L393.0,253.8 L391.8,253.8 L389.8,253.6 L389.0,254.4 L388.2,255.0 L387.4,255.8 L386.6,256.0 L385.6,255.4 L385.6,254.4 L386.0,253.6 L384.6,253.4 L383.2,253.8 L381.9,254.2 L380.3,254.4 L379.3,255.2 L378.1,255.0 L377.1,255.0 M395.2,240.0 L395.8,238.6 L394.8,238.0 L395.8,236.4 L397.8,236.6 L398.6,234.4 L398.4,233.0 L399.0,232.0 L400.1,232.6 L402.1,234.4 L403.7,235.0 L404.7,235.2 L405.7,234.4 L405.3,235.8 L406.3,236.4 L405.1,237.0 L403.7,237.2 L401.9,238.6 L401.5,239.2 L400.1,238.4 L398.2,237.8 L397.0,238.0 L396.2,239.0 L397.4,239.4 L396.6,239.8 L395.2,240.0 M399.1,231.0 L399.7,229.8 L401.9,230.0 L400.9,228.6 L400.3,227.4 L400.5,225.2 L401.7,224.4 L403.9,225.0 L402.7,223.6 L401.5,221.0 L401.3,218.4 L401.5,216.4 L400.7,214.6 L399.9,214.4 L400.3,215.8 L399.5,216.2 L398.6,216.4 L398.8,218.2 L398.4,220.0 L399.1,222.0 L399.3,225.0 L399.1,227.0 L399.0,229.0 L399.1,231.0 M472.1,181.0 L474.7,181.2 L477.7,180.8 L479.6,180.4 L476.7,179.8 L473.7,180.0 L472.1,181.0 M536.3,182.8 L533.3,182.2 L530.3,181.8 L527.3,181.2 L524.4,180.6 L521.4,180.2 L518.4,181.0 L515.4,181.4 L512.4,181.8 L509.5,182.4 L507.5,183.2 L505.5,184.0 L503.5,184.8 L501.5,185.2 L500.9,186.2 L503.5,187.0 L506.1,187.6 L507.5,188.2 L509.5,188.8 L509.5,189.8 L507.5,190.2 L504.5,190.0 L503.1,190.6 L500.9,191.4 L498.9,191.8 L499.5,192.6 L501.5,193.6 L504.5,194.0 L506.5,193.8 L508.5,194.2 L511.4,194.4 L513.4,195.2 L512.4,196.0 L510.5,196.6 L507.5,197.4 L504.9,197.8 L503.5,199.4 L502.5,201.0 L504.5,202.2 L507.1,203.4 L509.5,204.0 L510.5,205.4 L513.4,205.6 L516.4,205.2 L519.4,205.6 L520.0,206.6 L518.4,208.0 L515.4,209.2 L513.2,210.2 L510.8,211.2 L508.5,212.0 L506.9,212.8 L505.5,213.2 L507.5,213.0 L510.1,212.6 L512.4,212.0 L514.8,211.4 L517.4,210.2 L520.0,208.8 L522.4,207.8 L524.8,206.6 L526.4,205.8 L527.9,204.8 L529.5,204.6 L530.9,204.2 L531.9,203.2 L533.3,202.4 L535.3,201.8 M525.4,209.0 L527.3,208.6 L529.3,207.8 L529.7,206.8 L528.3,206.2 L526.4,207.0 L525.4,207.8 L525.4,209.0 M446.3,212.6 L448.0,213.6 M491.6,196.4 L493.6,196.8 L495.5,196.4 L497.1,196.6 L495.5,195.6 L493.6,195.4 L491.6,196.4 M502.1,203.0 L504.1,203.2 L503.5,202.2 L502.1,202.4 L502.1,203.0 M323.2,219.8 L324.6,219.8 L326.6,219.2 L328.6,218.2 L330.6,216.8 L332.6,215.6 L334.2,214.0 L334.8,212.4 L334.4,211.4 L333.6,212.4 L332.4,214.0 L330.0,215.8 L328.2,217.0 L326.2,218.2 L324.2,219.2 L323.2,219.8 M406.9,236.2 L408.7,235.4 M408.3,234.2 L411.1,232.6 M411.5,232.4 L414.1,230.6 M415.6,230.6 L417.0,229.4 M418.8,229.0 L419.6,228.0 M421.0,226.8 L421.8,225.8 M423.0,225.2 L424.0,224.4 M424.6,223.8 L425.6,222.8 M426.0,222.6 L428.0,221.2 M389.6,172.6 L392.2,173.4 L396.2,173.6 L400.1,173.2 L403.1,173.0 L405.1,172.2 L403.1,171.4 L399.1,171.0 L395.2,170.8 L391.8,171.2 L389.6,172.6 M409.5,173.0 L413.1,173.4 L416.6,172.8 L414.1,172.0 L411.1,172.2 L409.5,173.0 M394.2,176.0 L397.2,176.4 L401.7,176.2 L400.1,175.4 L397.2,175.2 L394.2,176.0 M301.8,163.6 L307.7,164.6 L313.7,164.8 L317.7,164.0 L316.7,162.6 L309.7,161.8 L303.8,162.6 L301.8,163.6 M313.7,165.4 L319.7,166.6 L325.6,166.4 L324.6,165.2 L317.7,164.8 L313.7,165.4 M501.5,215.2 L505.5,214.0 M496.5,216.8 L500.5,216.0 M490.6,217.6 L494.6,217.2 M482.6,219.0 L486.6,218.6 M476.7,219.4 L480.6,219.2 M471.7,219.8 L475.7,219.2 M459.8,217.2 L462.8,217.4 M515.0,278.6 L515.8,279.0 M518.0,279.8 L519.0,280.4 M520.0,280.7 L521.0,280.8 M521.6,281.2 L522.4,281.6 M522.8,282.4 L523.6,283.0" fill="none" stroke="#c6c6c6" stroke-width="1.05" stroke-linejoin="round"/>
<path d="M293.8,201.6 C296.7,201.2 305.2,200.4 311.2,199.2 C317.1,198.0 323.4,196.3 329.5,194.6 C335.6,192.9 342.1,191.1 347.7,189.0 C353.3,186.9 358.2,183.7 363.0,181.9 C367.8,180.1 370.9,179.0 376.2,178.2 C381.4,177.4 388.9,177.5 394.5,177.3 C400.1,177.1 404.4,177.0 410.0,176.8 C415.6,176.7 422.8,176.7 428.0,176.4 C433.2,176.1 435.9,175.4 441.2,175.0 C446.4,174.6 453.4,174.1 459.5,173.7 C465.6,173.3 471.6,172.8 477.7,172.4 C483.8,172.0 490.1,171.6 496.2,171.3 C502.3,171.0 509.3,171.0 514.5,170.6 C519.7,170.2 523.6,169.3 527.2,168.7 C530.8,168.1 534.8,167.3 536.3,167.0" fill="none" stroke="#222" stroke-width="1.30" stroke-dasharray="4.2,2.2"/>
<path d="M326.0,164.1 C329.7,164.1 344.3,164.1 348.0,164.1" fill="none" stroke="#222" stroke-width="1.30" stroke-dasharray="4.2,2.2"/>
<ellipse cx="400.0" cy="226.0" rx="20.6" ry="8.7" fill="none" stroke="#222" stroke-width="1.30" stroke-dasharray="4.2,2.2"/>
<path d="M293.8,229.6 C296.2,229.9 302.1,230.9 308.3,231.4 C314.5,231.9 324.0,232.4 331.2,232.6 C338.4,232.8 346.8,231.9 351.5,232.6 C356.2,233.2 356.6,234.4 359.2,236.5 C361.8,238.6 364.3,243.1 366.8,245.4 C369.3,247.7 371.0,248.5 374.4,250.4 C377.8,252.3 382.0,255.1 387.1,256.8 C392.2,258.5 399.5,260.2 405.0,260.6 C410.5,261.0 415.5,259.8 420.2,259.4 C424.9,259.0 429.0,258.1 433.0,258.1 C437.0,258.2 438.9,258.9 444.3,259.7 C449.7,260.5 457.5,262.3 465.6,262.9 C473.7,263.5 487.4,263.5 493.0,263.5 C498.6,263.5 494.7,263.4 499.3,262.9 C503.9,262.4 514.4,261.5 520.6,260.7 C526.8,259.9 533.7,258.7 536.3,258.3" fill="none" stroke="#222" stroke-width="1.30" stroke-dasharray="4.2,2.2"/>
<path d="M293.8,265.7 C296.2,265.8 303.8,265.4 308.3,266.2 C312.8,267.0 317.2,269.1 321.0,270.3 C324.8,271.5 325.3,272.4 331.2,273.3 C337.1,274.2 348.1,275.0 356.6,275.9 C365.1,276.8 373.5,277.8 382.0,278.4 C390.5,279.0 400.3,279.6 407.5,279.7 C414.7,279.8 420.6,279.3 425.0,279.2 C429.4,279.1 431.1,278.7 433.6,279.2 C436.1,279.7 438.6,281.0 440.0,282.0 C441.4,283.0 441.7,284.5 442.0,285.0" fill="none" stroke="#222" stroke-width="1.30" stroke-dasharray="4.2,2.2"/>
<path d="M536.3,208.3 C534.2,207.5 527.2,205.2 523.6,203.7 C520.0,202.2 517.5,200.6 514.5,199.2 C511.4,197.8 508.7,196.7 505.3,195.5 C501.9,194.3 498.4,192.7 494.4,191.9 C490.4,191.2 485.6,190.8 481.3,191.0 C477.0,191.2 473.2,191.7 468.6,192.8 C464.1,193.9 458.0,195.5 454.0,197.4 C450.0,199.3 446.5,201.1 444.5,204.0 C442.5,206.9 442.0,211.2 441.8,215.0 C441.6,218.8 442.6,223.1 443.5,227.0 C444.4,230.9 445.1,235.2 447.0,238.4 C448.9,241.6 451.8,244.0 454.9,245.9 C458.0,247.8 461.7,249.1 465.6,250.1 C469.5,251.1 473.7,251.7 478.3,252.2 C482.9,252.7 485.9,253.1 493.0,253.3 C500.1,253.5 513.4,253.7 520.6,253.3 C527.8,252.9 533.7,251.4 536.3,251.0" fill="none" stroke="#222" stroke-width="1.30" stroke-dasharray="4.2,2.2"/>
<path d="M536.3,223.5 C534.5,222.9 528.4,221.5 525.4,220.0 C522.4,218.5 520.8,216.5 518.1,214.7 C515.4,212.9 512.0,210.7 509.0,209.2 C506.0,207.7 503.2,206.7 499.9,205.6 C496.5,204.5 491.7,203.4 488.9,202.8 C486.1,202.2 485.3,202.2 483.2,202.3 C481.1,202.5 478.4,203.2 476.0,203.7 C473.6,204.2 470.6,204.3 468.5,205.5 C466.4,206.7 464.6,208.6 463.5,211.0 C462.4,213.4 462.0,216.8 462.0,220.0 C462.0,223.2 462.3,226.8 463.4,229.9 C464.5,233.0 466.2,236.1 468.7,238.4 C471.2,240.7 474.2,242.4 478.3,243.7 C482.4,244.9 485.9,245.5 493.0,245.9 C500.1,246.3 513.4,246.5 520.6,245.9 C527.8,245.3 533.7,243.1 536.3,242.5" fill="none" stroke="#222" stroke-width="1.30" stroke-dasharray="4.2,2.2"/>
<ellipse cx="499.3" cy="225.0" rx="12.8" ry="8.0" fill="none" stroke="#222" stroke-width="1.30" stroke-dasharray="4.2,2.2"/>
<path d="M536.3,269.3 C534.6,270.2 527.3,272.7 525.9,274.6 C524.5,276.6 527.3,279.3 528.0,281.0 C528.7,282.7 529.7,284.3 530.0,285.0" fill="none" stroke="#222" stroke-width="1.30" stroke-dasharray="4.2,2.2"/>
<path d="M396.9,202.3 C397.9,204.0 401.6,209.2 403.0,212.5 C404.4,215.8 405.0,219.1 405.4,222.0 C405.8,224.9 405.3,227.6 405.2,230.0 C405.1,232.4 405.4,234.1 404.6,236.4 C403.9,238.7 402.6,241.4 400.7,244.0 C398.8,246.6 395.9,249.3 393.1,251.7 C390.3,254.0 387.3,256.2 384.1,258.1 C380.9,260.0 377.1,261.8 373.9,263.2 C370.7,264.6 367.3,265.8 365.0,266.4 C362.7,267.0 360.8,266.9 359.9,267.0" fill="none" stroke="#fa0f0f" stroke-width="2" stroke-linecap="round"/>
<path d="M394.5,202.3 C395.5,204.1 399.2,209.7 400.7,213.0 C402.2,216.3 402.9,219.2 403.5,222.0 C404.1,224.8 404.1,227.6 404.0,230.0 C403.9,232.4 403.6,234.1 402.6,236.4 C401.6,238.7 400.2,241.4 398.2,244.0 C396.2,246.6 393.3,249.4 390.5,251.7 C387.7,253.9 384.8,255.7 381.6,257.5 C378.4,259.3 374.8,261.2 371.4,262.6 C368.0,264.0 363.9,265.0 361.1,265.8 C358.3,266.6 355.8,267.4 354.8,267.7" fill="none" stroke="#1eeb1e" stroke-width="2" stroke-linecap="round"/>
<g transform="translate(410.0,176.6) rotate(0.0)"><rect x="-4.7" y="-3.7" width="9.4" height="7.4" fill="#fff"/><text x="0" y="2.7" text-anchor="middle" class="s">30</text></g>
<g transform="translate(494.5,192.0) rotate(15.0)"><rect x="-6.0" y="-3.7" width="12.0" height="7.4" fill="#fff"/><text x="0" y="2.7" text-anchor="middle" class="s">-30</text></g>
<g transform="translate(474.8,203.5) rotate(-14.0)"><rect x="-6.0" y="-3.7" width="12.0" height="7.4" fill="#fff"/><text x="0" y="2.7" text-anchor="middle" class="s">-40</text></g>
<g transform="translate(406.0,259.5) rotate(0.0)"><rect x="-6.0" y="-3.7" width="12.0" height="7.4" fill="#fff"/><text x="0" y="2.7" text-anchor="middle" class="s">-20</text></g>
<g transform="translate(319.6,269.3) rotate(35.0)"><rect x="-6.0" y="-3.7" width="12.0" height="7.4" fill="#fff"/><text x="0" y="2.7" text-anchor="middle" class="s">-10</text></g></g>
<rect x="33.6" y="19.5" width="238.5" height="120.0" fill="none" stroke="#000" stroke-width="1.3"/>
<line x1="33.60" y1="19.5" x2="33.60" y2="15.0" stroke="#000" stroke-width="1"/>
<line x1="33.60" y1="139.5" x2="33.60" y2="144.0" stroke="#000" stroke-width="1"/>
<line x1="53.48" y1="19.5" x2="53.48" y2="17.0" stroke="#000" stroke-width="1"/>
<line x1="53.48" y1="139.5" x2="53.48" y2="142.0" stroke="#000" stroke-width="1"/>
<line x1="73.35" y1="19.5" x2="73.35" y2="17.0" stroke="#000" stroke-width="1"/>
<line x1="73.35" y1="139.5" x2="73.35" y2="142.0" stroke="#000" stroke-width="1"/>
<line x1="93.22" y1="19.5" x2="93.22" y2="15.0" stroke="#000" stroke-width="1"/>
<line x1="93.22" y1="139.5" x2="93.22" y2="144.0" stroke="#000" stroke-width="1"/>
<line x1="113.10" y1="19.5" x2="113.10" y2="17.0" stroke="#000" stroke-width="1"/>
<line x1="113.10" y1="139.5" x2="113.10" y2="142.0" stroke="#000" stroke-width="1"/>
<line x1="132.97" y1="19.5" x2="132.97" y2="17.0" stroke="#000" stroke-width="1"/>
<line x1="132.97" y1="139.5" x2="132.97" y2="142.0" stroke="#000" stroke-width="1"/>
<line x1="152.85" y1="19.5" x2="152.85" y2="15.0" stroke="#000" stroke-width="1"/>
<line x1="152.85" y1="139.5" x2="152.85" y2="144.0" stroke="#000" stroke-width="1"/>
<line x1="172.72" y1="19.5" x2="172.72" y2="17.0" stroke="#000" stroke-width="1"/>
<line x1="172.72" y1="139.5" x2="172.72" y2="142.0" stroke="#000" stroke-width="1"/>
<line x1="192.60" y1="19.5" x2="192.60" y2="17.0" stroke="#000" stroke-width="1"/>
<line x1="192.60" y1="139.5" x2="192.60" y2="142.0" stroke="#000" stroke-width="1"/>
<line x1="212.47" y1="19.5" x2="212.47" y2="15.0" stroke="#000" stroke-width="1"/>
<line x1="212.47" y1="139.5" x2="212.47" y2="144.0" stroke="#000" stroke-width="1"/>
<line x1="232.35" y1="19.5" x2="232.35" y2="17.0" stroke="#000" stroke-width="1"/>
<line x1="232.35" y1="139.5" x2="232.35" y2="142.0" stroke="#000" stroke-width="1"/>
<line x1="252.22" y1="19.5" x2="252.22" y2="17.0" stroke="#000" stroke-width="1"/>
<line x1="252.22" y1="139.5" x2="252.22" y2="142.0" stroke="#000" stroke-width="1"/>
<line x1="272.10" y1="19.5" x2="272.10" y2="15.0" stroke="#000" stroke-width="1"/>
<line x1="272.10" y1="139.5" x2="272.10" y2="144.0" stroke="#000" stroke-width="1"/>
<line x1="33.6" y1="19.50" x2="29.1" y2="19.50" stroke="#000" stroke-width="1"/>
<line x1="272.1" y1="19.50" x2="276.6" y2="19.50" stroke="#000" stroke-width="1"/>
<line x1="33.6" y1="29.50" x2="31.1" y2="29.50" stroke="#000" stroke-width="1"/>
<line x1="272.1" y1="29.50" x2="274.6" y2="29.50" stroke="#000" stroke-width="1"/>
<line x1="33.6" y1="39.50" x2="31.1" y2="39.50" stroke="#000" stroke-width="1"/>
<line x1="272.1" y1="39.50" x2="274.6" y2="39.50" stroke="#000" stroke-width="1"/>
<line x1="33.6" y1="49.50" x2="31.1" y2="49.50" stroke="#000" stroke-width="1"/>
<line x1="272.1" y1="49.50" x2="274.6" y2="49.50" stroke="#000" stroke-width="1"/>
<line x1="33.6" y1="59.50" x2="29.1" y2="59.50" stroke="#000" stroke-width="1"/>
<line x1="272.1" y1="59.50" x2="276.6" y2="59.50" stroke="#000" stroke-width="1"/>
<line x1="33.6" y1="69.50" x2="31.1" y2="69.50" stroke="#000" stroke-width="1"/>
<line x1="272.1" y1="69.50" x2="274.6" y2="69.50" stroke="#000" stroke-width="1"/>
<line x1="33.6" y1="79.50" x2="31.1" y2="79.50" stroke="#000" stroke-width="1"/>
<line x1="272.1" y1="79.50" x2="274.6" y2="79.50" stroke="#000" stroke-width="1"/>
<line x1="33.6" y1="89.50" x2="31.1" y2="89.50" stroke="#000" stroke-width="1"/>
<line x1="272.1" y1="89.50" x2="274.6" y2="89.50" stroke="#000" stroke-width="1"/>
<line x1="33.6" y1="99.50" x2="29.1" y2="99.50" stroke="#000" stroke-width="1"/>
<line x1="272.1" y1="99.50" x2="276.6" y2="99.50" stroke="#000" stroke-width="1"/>
<line x1="33.6" y1="109.50" x2="31.1" y2="109.50" stroke="#000" stroke-width="1"/>
<line x1="272.1" y1="109.50" x2="274.6" y2="109.50" stroke="#000" stroke-width="1"/>
<line x1="33.6" y1="119.50" x2="31.1" y2="119.50" stroke="#000" stroke-width="1"/>
<line x1="272.1" y1="119.50" x2="274.6" y2="119.50" stroke="#000" stroke-width="1"/>
<line x1="33.6" y1="129.50" x2="31.1" y2="129.50" stroke="#000" stroke-width="1"/>
<line x1="272.1" y1="129.50" x2="274.6" y2="129.50" stroke="#000" stroke-width="1"/>
<line x1="33.6" y1="139.50" x2="29.1" y2="139.50" stroke="#000" stroke-width="1"/>
<line x1="272.1" y1="139.50" x2="276.6" y2="139.50" stroke="#000" stroke-width="1"/>
<text x="24.8" y="23.6" text-anchor="end" class="t">80N</text>
<text x="24.8" y="63.6" text-anchor="end" class="t">60N</text>
<text x="24.8" y="103.6" text-anchor="end" class="t">40N</text>
<text x="24.8" y="143.6" text-anchor="end" class="t">20N</text>
<rect x="33.6" y="163.0" width="238.5" height="120.0" fill="none" stroke="#000" stroke-width="1.3"/>
<line x1="33.60" y1="163.0" x2="33.60" y2="158.5" stroke="#000" stroke-width="1"/>
<line x1="33.60" y1="283.0" x2="33.60" y2="287.5" stroke="#000" stroke-width="1"/>
<line x1="53.48" y1="163.0" x2="53.48" y2="160.5" stroke="#000" stroke-width="1"/>
<line x1="53.48" y1="283.0" x2="53.48" y2="285.5" stroke="#000" stroke-width="1"/>
<line x1="73.35" y1="163.0" x2="73.35" y2="160.5" stroke="#000" stroke-width="1"/>
<line x1="73.35" y1="283.0" x2="73.35" y2="285.5" stroke="#000" stroke-width="1"/>
<line x1="93.22" y1="163.0" x2="93.22" y2="158.5" stroke="#000" stroke-width="1"/>
<line x1="93.22" y1="283.0" x2="93.22" y2="287.5" stroke="#000" stroke-width="1"/>
<line x1="113.10" y1="163.0" x2="113.10" y2="160.5" stroke="#000" stroke-width="1"/>
<line x1="113.10" y1="283.0" x2="113.10" y2="285.5" stroke="#000" stroke-width="1"/>
<line x1="132.97" y1="163.0" x2="132.97" y2="160.5" stroke="#000" stroke-width="1"/>
<line x1="132.97" y1="283.0" x2="132.97" y2="285.5" stroke="#000" stroke-width="1"/>
<line x1="152.85" y1="163.0" x2="152.85" y2="158.5" stroke="#000" stroke-width="1"/>
<line x1="152.85" y1="283.0" x2="152.85" y2="287.5" stroke="#000" stroke-width="1"/>
<line x1="172.72" y1="163.0" x2="172.72" y2="160.5" stroke="#000" stroke-width="1"/>
<line x1="172.72" y1="283.0" x2="172.72" y2="285.5" stroke="#000" stroke-width="1"/>
<line x1="192.60" y1="163.0" x2="192.60" y2="160.5" stroke="#000" stroke-width="1"/>
<line x1="192.60" y1="283.0" x2="192.60" y2="285.5" stroke="#000" stroke-width="1"/>
<line x1="212.47" y1="163.0" x2="212.47" y2="158.5" stroke="#000" stroke-width="1"/>
<line x1="212.47" y1="283.0" x2="212.47" y2="287.5" stroke="#000" stroke-width="1"/>
<line x1="232.35" y1="163.0" x2="232.35" y2="160.5" stroke="#000" stroke-width="1"/>
<line x1="232.35" y1="283.0" x2="232.35" y2="285.5" stroke="#000" stroke-width="1"/>
<line x1="252.22" y1="163.0" x2="252.22" y2="160.5" stroke="#000" stroke-width="1"/>
<line x1="252.22" y1="283.0" x2="252.22" y2="285.5" stroke="#000" stroke-width="1"/>
<line x1="272.10" y1="163.0" x2="272.10" y2="158.5" stroke="#000" stroke-width="1"/>
<line x1="272.10" y1="283.0" x2="272.10" y2="287.5" stroke="#000" stroke-width="1"/>
<line x1="33.6" y1="163.00" x2="29.1" y2="163.00" stroke="#000" stroke-width="1"/>
<line x1="272.1" y1="163.00" x2="276.6" y2="163.00" stroke="#000" stroke-width="1"/>
<line x1="33.6" y1="173.00" x2="31.1" y2="173.00" stroke="#000" stroke-width="1"/>
<line x1="272.1" y1="173.00" x2="274.6" y2="173.00" stroke="#000" stroke-width="1"/>
<line x1="33.6" y1="183.00" x2="31.1" y2="183.00" stroke="#000" stroke-width="1"/>
<line x1="272.1" y1="183.00" x2="274.6" y2="183.00" stroke="#000" stroke-width="1"/>
<line x1="33.6" y1="193.00" x2="31.1" y2="193.00" stroke="#000" stroke-width="1"/>
<line x1="272.1" y1="193.00" x2="274.6" y2="193.00" stroke="#000" stroke-width="1"/>
<line x1="33.6" y1="203.00" x2="29.1" y2="203.00" stroke="#000" stroke-width="1"/>
<line x1="272.1" y1="203.00" x2="276.6" y2="203.00" stroke="#000" stroke-width="1"/>
<line x1="33.6" y1="213.00" x2="31.1" y2="213.00" stroke="#000" stroke-width="1"/>
<line x1="272.1" y1="213.00" x2="274.6" y2="213.00" stroke="#000" stroke-width="1"/>
<line x1="33.6" y1="223.00" x2="31.1" y2="223.00" stroke="#000" stroke-width="1"/>
<line x1="272.1" y1="223.00" x2="274.6" y2="223.00" stroke="#000" stroke-width="1"/>
<line x1="33.6" y1="233.00" x2="31.1" y2="233.00" stroke="#000" stroke-width="1"/>
<line x1="272.1" y1="233.00" x2="274.6" y2="233.00" stroke="#000" stroke-width="1"/>
<line x1="33.6" y1="243.00" x2="29.1" y2="243.00" stroke="#000" stroke-width="1"/>
<line x1="272.1" y1="243.00" x2="276.6" y2="243.00" stroke="#000" stroke-width="1"/>
<line x1="33.6" y1="253.00" x2="31.1" y2="253.00" stroke="#000" stroke-width="1"/>
<line x1="272.1" y1="253.00" x2="274.6" y2="253.00" stroke="#000" stroke-width="1"/>
<line x1="33.6" y1="263.00" x2="31.1" y2="263.00" stroke="#000" stroke-width="1"/>
<line x1="272.1" y1="263.00" x2="274.6" y2="263.00" stroke="#000" stroke-width="1"/>
<line x1="33.6" y1="273.00" x2="31.1" y2="273.00" stroke="#000" stroke-width="1"/>
<line x1="272.1" y1="273.00" x2="274.6" y2="273.00" stroke="#000" stroke-width="1"/>
<line x1="33.6" y1="283.00" x2="29.1" y2="283.00" stroke="#000" stroke-width="1"/>
<line x1="272.1" y1="283.00" x2="276.6" y2="283.00" stroke="#000" stroke-width="1"/>
<text x="24.8" y="167.1" text-anchor="end" class="t">80N</text>
<text x="24.8" y="207.1" text-anchor="end" class="t">60N</text>
<text x="24.8" y="247.1" text-anchor="end" class="t">40N</text>
<text x="24.8" y="287.1" text-anchor="end" class="t">20N</text>
<text x="33.6" y="299.4" text-anchor="middle" class="t">90E</text>
<text x="93.2" y="299.4" text-anchor="middle" class="t">120E</text>
<text x="152.8" y="299.4" text-anchor="middle" class="t">150E</text>
<text x="212.5" y="299.4" text-anchor="middle" class="t">180</text>
<text x="272.1" y="299.4" text-anchor="middle" class="t">150W</text>
<rect x="295.8" y="19.5" width="238.5" height="120.0" fill="none" stroke="#000" stroke-width="1.3"/>
<line x1="295.80" y1="19.5" x2="295.80" y2="15.0" stroke="#000" stroke-width="1"/>
<line x1="295.80" y1="139.5" x2="295.80" y2="144.0" stroke="#000" stroke-width="1"/>
<line x1="315.68" y1="19.5" x2="315.68" y2="17.0" stroke="#000" stroke-width="1"/>
<line x1="315.68" y1="139.5" x2="315.68" y2="142.0" stroke="#000" stroke-width="1"/>
<line x1="335.55" y1="19.5" x2="335.55" y2="17.0" stroke="#000" stroke-width="1"/>
<line x1="335.55" y1="139.5" x2="335.55" y2="142.0" stroke="#000" stroke-width="1"/>
<line x1="355.43" y1="19.5" x2="355.43" y2="15.0" stroke="#000" stroke-width="1"/>
<line x1="355.43" y1="139.5" x2="355.43" y2="144.0" stroke="#000" stroke-width="1"/>
<line x1="375.30" y1="19.5" x2="375.30" y2="17.0" stroke="#000" stroke-width="1"/>
<line x1="375.30" y1="139.5" x2="375.30" y2="142.0" stroke="#000" stroke-width="1"/>
<line x1="395.18" y1="19.5" x2="395.18" y2="17.0" stroke="#000" stroke-width="1"/>
<line x1="395.18" y1="139.5" x2="395.18" y2="142.0" stroke="#000" stroke-width="1"/>
<line x1="415.05" y1="19.5" x2="415.05" y2="15.0" stroke="#000" stroke-width="1"/>
<line x1="415.05" y1="139.5" x2="415.05" y2="144.0" stroke="#000" stroke-width="1"/>
<line x1="434.93" y1="19.5" x2="434.93" y2="17.0" stroke="#000" stroke-width="1"/>
<line x1="434.93" y1="139.5" x2="434.93" y2="142.0" stroke="#000" stroke-width="1"/>
<line x1="454.80" y1="19.5" x2="454.80" y2="17.0" stroke="#000" stroke-width="1"/>
<line x1="454.80" y1="139.5" x2="454.80" y2="142.0" stroke="#000" stroke-width="1"/>
<line x1="474.68" y1="19.5" x2="474.68" y2="15.0" stroke="#000" stroke-width="1"/>
<line x1="474.68" y1="139.5" x2="474.68" y2="144.0" stroke="#000" stroke-width="1"/>
<line x1="494.55" y1="19.5" x2="494.55" y2="17.0" stroke="#000" stroke-width="1"/>
<line x1="494.55" y1="139.5" x2="494.55" y2="142.0" stroke="#000" stroke-width="1"/>
<line x1="514.42" y1="19.5" x2="514.42" y2="17.0" stroke="#000" stroke-width="1"/>
<line x1="514.42" y1="139.5" x2="514.42" y2="142.0" stroke="#000" stroke-width="1"/>
<line x1="534.30" y1="19.5" x2="534.30" y2="15.0" stroke="#000" stroke-width="1"/>
<line x1="534.30" y1="139.5" x2="534.30" y2="144.0" stroke="#000" stroke-width="1"/>
<line x1="295.8" y1="19.50" x2="291.3" y2="19.50" stroke="#000" stroke-width="1"/>
<line x1="534.3" y1="19.50" x2="538.8" y2="19.50" stroke="#000" stroke-width="1"/>
<line x1="295.8" y1="29.50" x2="293.3" y2="29.50" stroke="#000" stroke-width="1"/>
<line x1="534.3" y1="29.50" x2="536.8" y2="29.50" stroke="#000" stroke-width="1"/>
<line x1="295.8" y1="39.50" x2="293.3" y2="39.50" stroke="#000" stroke-width="1"/>
<line x1="534.3" y1="39.50" x2="536.8" y2="39.50" stroke="#000" stroke-width="1"/>
<line x1="295.8" y1="49.50" x2="293.3" y2="49.50" stroke="#000" stroke-width="1"/>
<line x1="534.3" y1="49.50" x2="536.8" y2="49.50" stroke="#000" stroke-width="1"/>
<line x1="295.8" y1="59.50" x2="291.3" y2="59.50" stroke="#000" stroke-width="1"/>
<line x1="534.3" y1="59.50" x2="538.8" y2="59.50" stroke="#000" stroke-width="1"/>
<line x1="295.8" y1="69.50" x2="293.3" y2="69.50" stroke="#000" stroke-width="1"/>
<line x1="534.3" y1="69.50" x2="536.8" y2="69.50" stroke="#000" stroke-width="1"/>
<line x1="295.8" y1="79.50" x2="293.3" y2="79.50" stroke="#000" stroke-width="1"/>
<line x1="534.3" y1="79.50" x2="536.8" y2="79.50" stroke="#000" stroke-width="1"/>
<line x1="295.8" y1="89.50" x2="293.3" y2="89.50" stroke="#000" stroke-width="1"/>
<line x1="534.3" y1="89.50" x2="536.8" y2="89.50" stroke="#000" stroke-width="1"/>
<line x1="295.8" y1="99.50" x2="291.3" y2="99.50" stroke="#000" stroke-width="1"/>
<line x1="534.3" y1="99.50" x2="538.8" y2="99.50" stroke="#000" stroke-width="1"/>
<line x1="295.8" y1="109.50" x2="293.3" y2="109.50" stroke="#000" stroke-width="1"/>
<line x1="534.3" y1="109.50" x2="536.8" y2="109.50" stroke="#000" stroke-width="1"/>
<line x1="295.8" y1="119.50" x2="293.3" y2="119.50" stroke="#000" stroke-width="1"/>
<line x1="534.3" y1="119.50" x2="536.8" y2="119.50" stroke="#000" stroke-width="1"/>
<line x1="295.8" y1="129.50" x2="293.3" y2="129.50" stroke="#000" stroke-width="1"/>
<line x1="534.3" y1="129.50" x2="536.8" y2="129.50" stroke="#000" stroke-width="1"/>
<line x1="295.8" y1="139.50" x2="291.3" y2="139.50" stroke="#000" stroke-width="1"/>
<line x1="534.3" y1="139.50" x2="538.8" y2="139.50" stroke="#000" stroke-width="1"/>
<rect x="295.8" y="163.0" width="238.5" height="120.0" fill="none" stroke="#000" stroke-width="1.3"/>
<line x1="295.80" y1="163.0" x2="295.80" y2="158.5" stroke="#000" stroke-width="1"/>
<line x1="295.80" y1="283.0" x2="295.80" y2="287.5" stroke="#000" stroke-width="1"/>
<line x1="315.68" y1="163.0" x2="315.68" y2="160.5" stroke="#000" stroke-width="1"/>
<line x1="315.68" y1="283.0" x2="315.68" y2="285.5" stroke="#000" stroke-width="1"/>
<line x1="335.55" y1="163.0" x2="335.55" y2="160.5" stroke="#000" stroke-width="1"/>
<line x1="335.55" y1="283.0" x2="335.55" y2="285.5" stroke="#000" stroke-width="1"/>
<line x1="355.43" y1="163.0" x2="355.43" y2="158.5" stroke="#000" stroke-width="1"/>
<line x1="355.43" y1="283.0" x2="355.43" y2="287.5" stroke="#000" stroke-width="1"/>
<line x1="375.30" y1="163.0" x2="375.30" y2="160.5" stroke="#000" stroke-width="1"/>
<line x1="375.30" y1="283.0" x2="375.30" y2="285.5" stroke="#000" stroke-width="1"/>
<line x1="395.18" y1="163.0" x2="395.18" y2="160.5" stroke="#000" stroke-width="1"/>
<line x1="395.18" y1="283.0" x2="395.18" y2="285.5" stroke="#000" stroke-width="1"/>
<line x1="415.05" y1="163.0" x2="415.05" y2="158.5" stroke="#000" stroke-width="1"/>
<line x1="415.05" y1="283.0" x2="415.05" y2="287.5" stroke="#000" stroke-width="1"/>
<line x1="434.93" y1="163.0" x2="434.93" y2="160.5" stroke="#000" stroke-width="1"/>
<line x1="434.93" y1="283.0" x2="434.93" y2="285.5" stroke="#000" stroke-width="1"/>
<line x1="454.80" y1="163.0" x2="454.80" y2="160.5" stroke="#000" stroke-width="1"/>
<line x1="454.80" y1="283.0" x2="454.80" y2="285.5" stroke="#000" stroke-width="1"/>
<line x1="474.68" y1="163.0" x2="474.68" y2="158.5" stroke="#000" stroke-width="1"/>
<line x1="474.68" y1="283.0" x2="474.68" y2="287.5" stroke="#000" stroke-width="1"/>
<line x1="494.55" y1="163.0" x2="494.55" y2="160.5" stroke="#000" stroke-width="1"/>
<line x1="494.55" y1="283.0" x2="494.55" y2="285.5" stroke="#000" stroke-width="1"/>
<line x1="514.42" y1="163.0" x2="514.42" y2="160.5" stroke="#000" stroke-width="1"/>
<line x1="514.42" y1="283.0" x2="514.42" y2="285.5" stroke="#000" stroke-width="1"/>
<line x1="534.30" y1="163.0" x2="534.30" y2="158.5" stroke="#000" stroke-width="1"/>
<line x1="534.30" y1="283.0" x2="534.30" y2="287.5" stroke="#000" stroke-width="1"/>
<line x1="295.8" y1="163.00" x2="291.3" y2="163.00" stroke="#000" stroke-width="1"/>
<line x1="534.3" y1="163.00" x2="538.8" y2="163.00" stroke="#000" stroke-width="1"/>
<line x1="295.8" y1="173.00" x2="293.3" y2="173.00" stroke="#000" stroke-width="1"/>
<line x1="534.3" y1="173.00" x2="536.8" y2="173.00" stroke="#000" stroke-width="1"/>
<line x1="295.8" y1="183.00" x2="293.3" y2="183.00" stroke="#000" stroke-width="1"/>
<line x1="534.3" y1="183.00" x2="536.8" y2="183.00" stroke="#000" stroke-width="1"/>
<line x1="295.8" y1="193.00" x2="293.3" y2="193.00" stroke="#000" stroke-width="1"/>
<line x1="534.3" y1="193.00" x2="536.8" y2="193.00" stroke="#000" stroke-width="1"/>
<line x1="295.8" y1="203.00" x2="291.3" y2="203.00" stroke="#000" stroke-width="1"/>
<line x1="534.3" y1="203.00" x2="538.8" y2="203.00" stroke="#000" stroke-width="1"/>
<line x1="295.8" y1="213.00" x2="293.3" y2="213.00" stroke="#000" stroke-width="1"/>
<line x1="534.3" y1="213.00" x2="536.8" y2="213.00" stroke="#000" stroke-width="1"/>
<line x1="295.8" y1="223.00" x2="293.3" y2="223.00" stroke="#000" stroke-width="1"/>
<line x1="534.3" y1="223.00" x2="536.8" y2="223.00" stroke="#000" stroke-width="1"/>
<line x1="295.8" y1="233.00" x2="293.3" y2="233.00" stroke="#000" stroke-width="1"/>
<line x1="534.3" y1="233.00" x2="536.8" y2="233.00" stroke="#000" stroke-width="1"/>
<line x1="295.8" y1="243.00" x2="291.3" y2="243.00" stroke="#000" stroke-width="1"/>
<line x1="534.3" y1="243.00" x2="538.8" y2="243.00" stroke="#000" stroke-width="1"/>
<line x1="295.8" y1="253.00" x2="293.3" y2="253.00" stroke="#000" stroke-width="1"/>
<line x1="534.3" y1="253.00" x2="536.8" y2="253.00" stroke="#000" stroke-width="1"/>
<line x1="295.8" y1="263.00" x2="293.3" y2="263.00" stroke="#000" stroke-width="1"/>
<line x1="534.3" y1="263.00" x2="536.8" y2="263.00" stroke="#000" stroke-width="1"/>
<line x1="295.8" y1="273.00" x2="293.3" y2="273.00" stroke="#000" stroke-width="1"/>
<line x1="534.3" y1="273.00" x2="536.8" y2="273.00" stroke="#000" stroke-width="1"/>
<line x1="295.8" y1="283.00" x2="291.3" y2="283.00" stroke="#000" stroke-width="1"/>
<line x1="534.3" y1="283.00" x2="538.8" y2="283.00" stroke="#000" stroke-width="1"/>
<text x="295.8" y="299.4" text-anchor="middle" class="t">90E</text>
<text x="355.4" y="299.4" text-anchor="middle" class="t">120E</text>
<text x="415.1" y="299.4" text-anchor="middle" class="t">150E</text>
<text x="474.7" y="299.4" text-anchor="middle" class="t">180</text>
<text x="534.3" y="299.4" text-anchor="middle" class="t">150W</text>
<text x="33.0" y="12.6" class="tt">(a)NCEP</text>
<text x="33.0" y="156.1" class="tt">(b)MME</text>
<text x="295.2" y="12.6" class="tt">(c)NCEP</text>
<text x="295.2" y="156.1" class="tt">(d)MME</text>
<rect x="34.90" y="304.6" width="19.62" height="8.8" fill="#9c1cf0" stroke="#111" stroke-width="0.9"/>
<rect x="54.52" y="304.6" width="19.62" height="8.8" fill="#0000fc" stroke="#111" stroke-width="0.9"/>
<rect x="74.14" y="304.6" width="19.62" height="8.8" fill="#0a69f0" stroke="#111" stroke-width="0.9"/>
<rect x="93.76" y="304.6" width="19.62" height="8.8" fill="#0096f5" stroke="#111" stroke-width="0.9"/>
<rect x="113.38" y="304.6" width="19.62" height="8.8" fill="#00bef8" stroke="#111" stroke-width="0.9"/>
<rect x="133.00" y="304.6" width="19.62" height="8.8" fill="#96dcf5" stroke="#111" stroke-width="0.9"/>
<rect x="152.62" y="304.6" width="19.62" height="8.8" fill="#fdef64" stroke="#111" stroke-width="0.9"/>
<rect x="172.24" y="304.6" width="19.62" height="8.8" fill="#ffc200" stroke="#111" stroke-width="0.9"/>
<rect x="191.86" y="304.6" width="19.62" height="8.8" fill="#ff8200" stroke="#111" stroke-width="0.9"/>
<rect x="211.48" y="304.6" width="19.62" height="8.8" fill="#fc1000" stroke="#111" stroke-width="0.9"/>
<rect x="231.10" y="304.6" width="19.62" height="8.8" fill="#eb0000" stroke="#111" stroke-width="0.9"/>
<rect x="250.72" y="304.6" width="19.62" height="8.8" fill="#ffaaaa" stroke="#111" stroke-width="0.9"/>
<text x="54.5" y="325.8" text-anchor="middle" class="cb">5080</text>
<text x="93.8" y="325.8" text-anchor="middle" class="cb">5240</text>
<text x="133.0" y="325.8" text-anchor="middle" class="cb">5400</text>
<text x="172.2" y="325.8" text-anchor="middle" class="cb">5560</text>
<text x="211.5" y="325.8" text-anchor="middle" class="cb">5720</text>
<text x="250.7" y="325.8" text-anchor="middle" class="cb">5880</text>
<rect x="297.30" y="304.6" width="19.62" height="8.8" fill="#9c1cf0" stroke="#111" stroke-width="0.9"/>
<rect x="316.92" y="304.6" width="19.62" height="8.8" fill="#0000fc" stroke="#111" stroke-width="0.9"/>
<rect x="336.54" y="304.6" width="19.62" height="8.8" fill="#0a69f0" stroke="#111" stroke-width="0.9"/>
<rect x="356.16" y="304.6" width="19.62" height="8.8" fill="#0096f5" stroke="#111" stroke-width="0.9"/>
<rect x="375.78" y="304.6" width="19.62" height="8.8" fill="#00bef8" stroke="#111" stroke-width="0.9"/>
<rect x="395.40" y="304.6" width="19.62" height="8.8" fill="#96dcf5" stroke="#111" stroke-width="0.9"/>
<rect x="415.02" y="304.6" width="19.62" height="8.8" fill="#fdef64" stroke="#111" stroke-width="0.9"/>
<rect x="434.64" y="304.6" width="19.62" height="8.8" fill="#ffc200" stroke="#111" stroke-width="0.9"/>
<rect x="454.26" y="304.6" width="19.62" height="8.8" fill="#ff8200" stroke="#111" stroke-width="0.9"/>
<rect x="473.88" y="304.6" width="19.62" height="8.8" fill="#fc1000" stroke="#111" stroke-width="0.9"/>
<rect x="493.50" y="304.6" width="19.62" height="8.8" fill="#eb0000" stroke="#111" stroke-width="0.9"/>
<rect x="513.12" y="304.6" width="19.62" height="8.8" fill="#ffaaaa" stroke="#111" stroke-width="0.9"/>
<text x="316.9" y="325.8" text-anchor="middle" class="cb">0</text>
<text x="356.2" y="325.8" text-anchor="middle" class="cb">20</text>
<text x="395.4" y="325.8" text-anchor="middle" class="cb">40</text>
<text x="434.6" y="325.8" text-anchor="middle" class="cb">60</text>
<text x="473.9" y="325.8" text-anchor="middle" class="cb">80</text>
<text x="513.1" y="325.8" text-anchor="middle" class="cb">100</text>
</svg></body></html>
